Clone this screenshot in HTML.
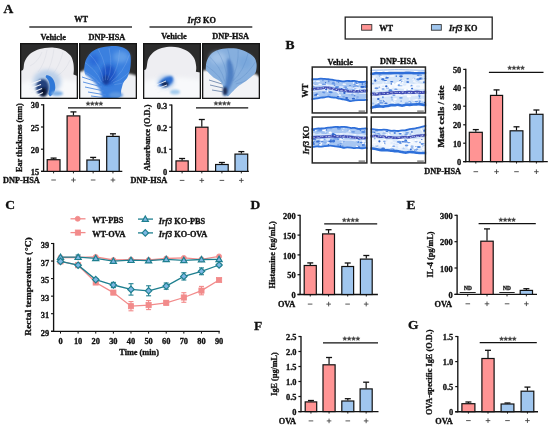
<!DOCTYPE html><html><head><meta charset="utf-8"><style>html,body{margin:0;padding:0;background:#fff;}svg{display:block;will-change:transform;filter:blur(0.3px);}text{font-family:"Liberation Serif",serif;font-weight:bold;stroke:#111;stroke-width:0.32px;}</style></head><body>
<svg width="550" height="428" viewBox="0 0 550 428">
<rect width="550" height="428" fill="#fff"/>
<text x="3.40" y="13.20" font-size="13.5" fill="#111" >A</text>
<text x="285.60" y="48.60" font-size="13.5" fill="#111" >B</text>
<text x="5.30" y="209.40" font-size="13.5" fill="#111" >C</text>
<text x="250.50" y="209.40" font-size="13.5" fill="#111" >D</text>
<text x="406.40" y="209.40" font-size="13.5" fill="#111" >E</text>
<text x="253.90" y="329.50" font-size="13.5" fill="#111" >F</text>
<text x="407.90" y="329.40" font-size="13.5" fill="#111" >G</text>
<text x="81.05" y="22.20" font-size="8.3" text-anchor="middle" fill="#111" >WT</text>
<line x1="29.30" y1="27.00" x2="132.00" y2="27.00" stroke="#333" stroke-width="1.5" />
<text x="201.7" y="22.7" font-size="8.3" text-anchor="middle" fill="#111"><tspan font-style="italic">Irf3</tspan> KO</text>
<line x1="149.50" y1="27.00" x2="252.30" y2="27.00" stroke="#333" stroke-width="1.5" />
<text x="53.30" y="39.50" font-size="8.3" text-anchor="middle" fill="#111" >Vehicle</text>
<text x="106.90" y="39.50" font-size="8.3" text-anchor="middle" fill="#111" >DNP-HSA</text>
<text x="174.05" y="39.40" font-size="8.3" text-anchor="middle" fill="#111" >Vehicle</text>
<text x="230.60" y="39.40" font-size="8.3" text-anchor="middle" fill="#111" >DNP-HSA</text>
<defs><filter id="b1" filterUnits="userSpaceOnUse" x="0" y="0" width="550" height="428"><feGaussianBlur stdDeviation="1.2"/></filter><filter id="b2" filterUnits="userSpaceOnUse" x="0" y="0" width="550" height="428"><feGaussianBlur stdDeviation="2.2"/></filter><filter id="b3" filterUnits="userSpaceOnUse" x="0" y="0" width="550" height="428"><feGaussianBlur stdDeviation="3.2"/></filter><filter id="b05" filterUnits="userSpaceOnUse" x="0" y="0" width="550" height="428"><feGaussianBlur stdDeviation="0.5"/></filter><filter id="b08" filterUnits="userSpaceOnUse" x="0" y="0" width="550" height="428"><feGaussianBlur stdDeviation="0.8"/></filter><filter id="b03" filterUnits="userSpaceOnUse" x="0" y="0" width="550" height="428"><feGaussianBlur stdDeviation="0.35"/></filter>
<clipPath id="cp1"><rect x="20" y="43" width="58" height="56"/></clipPath>
<clipPath id="cp2"><rect x="79" y="43" width="58" height="56"/></clipPath>
<clipPath id="cp3"><rect x="143" y="43" width="58" height="56"/></clipPath>
<clipPath id="cp4"><rect x="202" y="43" width="58" height="56"/></clipPath>
<clipPath id="cm1"><rect x="311.5" y="66.3" width="56.1" height="47.4"/></clipPath>
<clipPath id="cm2"><rect x="370.5" y="66.3" width="55.7" height="47.4"/></clipPath>
<clipPath id="cm3"><rect x="311.5" y="116.3" width="56.1" height="47.4"/></clipPath>
<clipPath id="cm4"><rect x="370.5" y="116.3" width="55.7" height="47.4"/></clipPath>
</defs>
<g clip-path="url(#cp1)">
<rect x="20" y="43" width="58" height="56" fill="#2c2c2c"/>
<path d="M18.32,70.71 C19.11,70.56 22.05,71.17 23.06,69.77 C24.08,68.37 23.51,64.69 24.42,62.32 C25.32,59.95 26.68,57.46 28.48,55.54 C30.29,53.63 32.54,52.05 35.25,50.80 C37.96,49.56 41.57,48.61 44.73,48.10 C47.90,47.58 51.06,47.35 54.22,47.69 C57.38,48.03 60.99,48.82 63.70,50.13 C66.41,51.44 68.89,53.51 70.47,55.54 C72.05,57.58 72.61,60.06 73.18,62.32 C73.74,64.57 73.81,67.06 73.86,69.09 C73.90,71.12 73.52,73.60 73.45,74.51 L80,77 L80,101 L18,101 Z" fill="#ededf1" filter="url(#b05)"/>
<path d="M18,84 Q45,74 80,82 L80,101 L18,101 Z" fill="#f8f9fb" filter="url(#b2)"/>
<path d="M30,66 Q38.0,62.0 42,52" stroke="#c4c6d2" stroke-width="0.5" fill="none" opacity="0.5"/>
<path d="M38,72 Q44.5,64.0 47,50" stroke="#c4c6d2" stroke-width="0.5" fill="none" opacity="0.5"/>
<path d="M46,74 Q52.0,64.5 54,49" stroke="#c4c6d2" stroke-width="0.5" fill="none" opacity="0.5"/>
<path d="M52,75 Q59.5,66.5 63,52" stroke="#c4c6d2" stroke-width="0.5" fill="none" opacity="0.5"/>
<path d="M57,76 Q65.5,71.0 70,60" stroke="#c4c6d2" stroke-width="0.5" fill="none" opacity="0.5"/>
<ellipse cx="47" cy="82" rx="14" ry="12" fill="#b9cfe9" filter="url(#b2)"/>
<ellipse cx="42.5" cy="87.5" rx="6.5" ry="8.5" fill="#21407c" filter="url(#b1)"/>
<path d="M46.5,75 C52,75.5 55.5,81 55.3,88 C55,92 53,95 50,96.5 L48.2,94 C50.5,88 50.5,81 45.5,77 Z" fill="#2e78d8" filter="url(#b05)"/>
<ellipse cx="43.5" cy="92" rx="3.2" ry="4.5" fill="#0d1430" filter="url(#b08)"/>
<ellipse cx="57" cy="93.5" rx="6" ry="2.6" fill="#7fb0e6" filter="url(#b1)"/>
<line x1="28" y1="85" x2="41" y2="80" stroke="#f3f6fa" stroke-width="1.1" filter="url(#b03)"/>
<line x1="29" y1="89" x2="41" y2="84.5" stroke="#f3f6fa" stroke-width="1.1" filter="url(#b03)"/>
<line x1="31" y1="93" x2="42" y2="88.5" stroke="#f3f6fa" stroke-width="1.1" filter="url(#b03)"/>
<line x1="33" y1="97" x2="43" y2="92.5" stroke="#f3f6fa" stroke-width="1.1" filter="url(#b03)"/>
</g>
<g clip-path="url(#cp2)">
<rect x="79" y="43" width="58" height="56" fill="#2c2c2c"/>
<path d="M78,73 Q84,71 86,68 L131,74 L138,76 L138,101 L78,101 Z" fill="#eef0f4" filter="url(#b1)"/>
<path d="M84.10,69.09 C84.32,67.73 84.55,63.45 85.45,60.96 C86.35,58.48 87.82,56.11 89.51,54.19 C91.21,52.27 93.01,50.69 95.61,49.45 C98.20,48.21 101.70,47.30 105.09,46.74 C108.48,46.18 112.76,45.84 115.92,46.06 C119.09,46.29 121.79,46.97 124.05,48.10 C126.31,49.22 128.34,50.92 129.47,52.84 C130.60,54.75 130.71,56.90 130.82,59.61 C130.94,62.32 130.71,66.15 130.15,69.09 C129.58,72.02 128.57,74.96 127.44,77.22 C126.31,79.47 124.39,80.60 123.37,82.63 C122.36,84.67 122.13,86.92 121.34,89.41 C120.55,91.89 122.25,96.07 118.63,97.53 C115.02,99.00 103.73,100.02 99.67,98.21 C95.61,96.40 96.51,90.20 94.25,86.70 C92.00,83.20 87.82,80.15 86.13,77.22 C84.43,74.28 84.43,70.44 84.10,69.09 Z" fill="#3b80df" filter="url(#b05)"/>
<ellipse cx="108.5" cy="74.5" rx="7.5" ry="10" fill="#1a52c4" filter="url(#b2)"/>
<ellipse cx="106" cy="80" rx="3.5" ry="5" fill="#173f9c" filter="url(#b1)"/>
<ellipse cx="121" cy="57" rx="8" ry="6" fill="#5f9ce8" filter="url(#b2)"/>
<ellipse cx="94" cy="60" rx="5" ry="6" fill="#2a6ad8" filter="url(#b2)"/>
<path d="M78,72 C86,73 94,80 100,90 L103,101 L78,101 Z" fill="#f3f6fa" filter="url(#b1)"/>
<line x1="82" y1="77" x2="100" y2="83" stroke="#4f8ae0" stroke-width="0.9" filter="url(#b03)"/>
<line x1="83" y1="82" x2="102" y2="87" stroke="#4f8ae0" stroke-width="0.9" filter="url(#b03)"/>
<line x1="85" y1="87" x2="104" y2="91" stroke="#4f8ae0" stroke-width="0.9" filter="url(#b03)"/>
<line x1="88" y1="92" x2="106" y2="95" stroke="#4f8ae0" stroke-width="0.9" filter="url(#b03)"/>
<line x1="91" y1="96" x2="107" y2="98" stroke="#4f8ae0" stroke-width="0.9" filter="url(#b03)"/>
<ellipse cx="116" cy="95" rx="7" ry="3" fill="#5b96e0" filter="url(#b1)"/>
<clipPath id="ce2"><path d="M84.10,69.09 C84.32,67.73 84.55,63.45 85.45,60.96 C86.35,58.48 87.82,56.11 89.51,54.19 C91.21,52.27 93.01,50.69 95.61,49.45 C98.20,48.21 101.70,47.30 105.09,46.74 C108.48,46.18 112.76,45.84 115.92,46.06 C119.09,46.29 121.79,46.97 124.05,48.10 C126.31,49.22 128.34,50.92 129.47,52.84 C130.60,54.75 130.71,56.90 130.82,59.61 C130.94,62.32 130.71,66.15 130.15,69.09 C129.58,72.02 128.57,74.96 127.44,77.22 C126.31,79.47 124.39,80.60 123.37,82.63 C122.36,84.67 122.13,86.92 121.34,89.41 C120.55,91.89 122.25,96.07 118.63,97.53 C115.02,99.00 103.73,100.02 99.67,98.21 C95.61,96.40 96.51,90.20 94.25,86.70 C92.00,83.20 87.82,80.15 86.13,77.22 C84.43,74.28 84.43,70.44 84.10,69.09 Z"/></clipPath><g clip-path="url(#ce2)">
<path d="M100.1,83.9 Q91.5,72.3 72.7,67.4" stroke="#8fbaf0" stroke-width="0.6" fill="none" opacity="0.5"/>
<path d="M101.5,82.2 Q96.3,68.8 79.5,59.0" stroke="#8fbaf0" stroke-width="0.6" fill="none" opacity="0.5"/>
<path d="M103.2,80.9 Q101.8,66.6 88.2,52.7" stroke="#8fbaf0" stroke-width="0.6" fill="none" opacity="0.5"/>
<path d="M105.3,80.2 Q107.7,66.0 98.3,49.0" stroke="#8fbaf0" stroke-width="0.6" fill="none" opacity="0.5"/>
<path d="M107.4,80.0 Q113.5,67.0 109.0,48.1" stroke="#8fbaf0" stroke-width="0.6" fill="none" opacity="0.5"/>
<path d="M109.5,80.4 Q118.9,69.5 119.6,50.0" stroke="#8fbaf0" stroke-width="0.6" fill="none" opacity="0.5"/>
<path d="M111.5,81.4 Q123.4,73.3 129.3,54.8" stroke="#8fbaf0" stroke-width="0.6" fill="none" opacity="0.5"/>
<path d="M113.1,82.8 Q126.7,78.2 137.3,61.9" stroke="#8fbaf0" stroke-width="0.6" fill="none" opacity="0.5"/>
<path d="M114.2,84.6 Q128.6,83.8 143.2,71.0" stroke="#8fbaf0" stroke-width="0.6" fill="none" opacity="0.5"/>
</g>
</g>
<g clip-path="url(#cp3)">
<rect x="143" y="43" width="58" height="56" fill="#2c2c2c"/>
<path d="M141.32,69.77 C142.11,69.65 144.93,70.78 146.06,69.09 C147.19,67.40 146.97,62.32 148.10,59.61 C149.22,56.90 150.92,54.64 152.84,52.84 C154.75,51.03 156.90,49.79 159.61,48.77 C162.32,47.76 165.93,46.97 169.09,46.74 C172.25,46.51 175.41,46.63 178.57,47.42 C181.73,48.21 185.46,49.68 188.05,51.48 C190.65,53.29 192.79,55.77 194.15,58.25 C195.50,60.74 195.89,64.12 196.18,66.38 C196.47,68.64 195.95,70.90 195.91,71.80 L203,73 L203,101 L141,101 Z" fill="#eeeef2" filter="url(#b05)"/>
<path d="M141,82 Q170,74 203,80 L203,101 L141,101 Z" fill="#f8f9fb" filter="url(#b2)"/>
<ellipse cx="166" cy="82" rx="8" ry="6.5" fill="#a9c6ea" filter="url(#b2)"/>
<path d="M158,85 C160,80 165,76 171,76 C174,77 174,81 171,84 C167,87 162,88 158,85 Z" fill="#2f6fd2" filter="url(#b08)"/>
<ellipse cx="165" cy="84" rx="3.4" ry="2.6" fill="#15284f" filter="url(#b08)"/>
<ellipse cx="175" cy="92" rx="5" ry="2.5" fill="#a4ccee" filter="url(#b1)"/>
<line x1="154" y1="86" x2="166" y2="81" stroke="#f2f5f9" stroke-width="0.9" filter="url(#b03)"/>
<line x1="155" y1="89.5" x2="167" y2="85" stroke="#f2f5f9" stroke-width="0.9" filter="url(#b03)"/>
<line x1="157" y1="93" x2="168" y2="88.5" stroke="#f2f5f9" stroke-width="0.9" filter="url(#b03)"/>
</g>
<g clip-path="url(#cp4)">
<rect x="202" y="43" width="58" height="56" fill="#2c2c2c"/>
<path d="M201,71 L206,70 L256,74 L261,78 L261,101 L201,101 Z" fill="#f2f3f6" filter="url(#b1)"/>
<path d="M205.74,69.77 C205.85,68.52 205.74,64.69 206.42,62.32 C207.10,59.95 208.22,57.46 209.80,55.54 C211.38,53.63 213.30,51.98 215.90,50.80 C218.50,49.63 221.99,48.89 225.38,48.50 C228.77,48.12 232.83,48.00 236.22,48.50 C239.60,49.00 242.76,50.08 245.70,51.48 C248.63,52.88 252.02,54.87 253.82,56.90 C255.63,58.93 256.19,61.19 256.53,63.67 C256.87,66.15 256.53,69.77 255.86,71.80 C255.18,73.83 254.16,74.28 252.47,75.86 C250.78,77.44 248.18,79.47 245.70,81.28 C243.21,83.09 239.83,84.89 237.57,86.70 C235.31,88.50 233.73,90.53 232.15,92.12 C230.57,93.70 229.22,95.95 228.09,96.18 C226.96,96.40 226.51,95.73 225.38,93.47 C224.25,91.21 223.35,85.34 221.32,82.63 C219.29,79.92 215.79,79.36 213.19,77.22 C210.59,75.07 206.98,71.01 205.74,69.77 Z" fill="#86afde" filter="url(#b05)"/>
<path d="M228,58 C233,62 235,72 233,80 C231,86 228,92 226,96 L223,95 C224,88 227,80 227,72 C227,66 226,61 228,58 Z" fill="#4f80c4" filter="url(#b1)"/>
<ellipse cx="218" cy="58" rx="8" ry="6" fill="#a2c2e8" filter="url(#b2)"/>
<ellipse cx="245" cy="62" rx="7" ry="7" fill="#7aa8dc" filter="url(#b2)"/>
<ellipse cx="225" cy="91" rx="2.2" ry="4" fill="#1b2a50" filter="url(#b08)"/>
<line x1="209" y1="80" x2="222" y2="84" stroke="#4a6a98" stroke-width="0.7" filter="url(#b03)"/>
<line x1="210" y1="85" x2="223" y2="88" stroke="#4a6a98" stroke-width="0.7" filter="url(#b03)"/>
<line x1="212" y1="90" x2="224" y2="92" stroke="#4a6a98" stroke-width="0.7" filter="url(#b03)"/>
<clipPath id="ce4"><path d="M205.74,69.77 C205.85,68.52 205.74,64.69 206.42,62.32 C207.10,59.95 208.22,57.46 209.80,55.54 C211.38,53.63 213.30,51.98 215.90,50.80 C218.50,49.63 221.99,48.89 225.38,48.50 C228.77,48.12 232.83,48.00 236.22,48.50 C239.60,49.00 242.76,50.08 245.70,51.48 C248.63,52.88 252.02,54.87 253.82,56.90 C255.63,58.93 256.19,61.19 256.53,63.67 C256.87,66.15 256.53,69.77 255.86,71.80 C255.18,73.83 254.16,74.28 252.47,75.86 C250.78,77.44 248.18,79.47 245.70,81.28 C243.21,83.09 239.83,84.89 237.57,86.70 C235.31,88.50 233.73,90.53 232.15,92.12 C230.57,93.70 229.22,95.95 228.09,96.18 C226.96,96.40 226.51,95.73 225.38,93.47 C224.25,91.21 223.35,85.34 221.32,82.63 C219.29,79.92 215.79,79.36 213.19,77.22 C210.59,75.07 206.98,71.01 205.74,69.77 Z"/></clipPath><g clip-path="url(#ce4)">
<path d="M221.8,84.6 Q212.1,74.0 191.0,70.1" stroke="#4f7fc0" stroke-width="0.6" fill="none" opacity="0.45"/>
<path d="M222.9,82.8 Q216.4,70.0 197.2,60.6" stroke="#4f7fc0" stroke-width="0.6" fill="none" opacity="0.45"/>
<path d="M224.6,81.3 Q221.7,67.3 205.7,53.1" stroke="#4f7fc0" stroke-width="0.6" fill="none" opacity="0.45"/>
<path d="M226.5,80.4 Q227.5,66.1 215.8,48.1" stroke="#4f7fc0" stroke-width="0.6" fill="none" opacity="0.45"/>
<path d="M228.6,80.0 Q233.4,66.4 226.9,46.1" stroke="#4f7fc0" stroke-width="0.6" fill="none" opacity="0.45"/>
<path d="M230.8,80.2 Q239.0,68.4 238.2,47.0" stroke="#4f7fc0" stroke-width="0.6" fill="none" opacity="0.45"/>
<path d="M232.8,80.9 Q243.8,71.8 248.8,51.0" stroke="#4f7fc0" stroke-width="0.6" fill="none" opacity="0.45"/>
<path d="M234.5,82.2 Q247.6,76.3 258.0,57.6" stroke="#4f7fc0" stroke-width="0.6" fill="none" opacity="0.45"/>
<path d="M235.9,83.9 Q250.1,81.7 265.0,66.4" stroke="#4f7fc0" stroke-width="0.6" fill="none" opacity="0.45"/>
</g>
</g>
<rect x="20.65" y="43.65" width="56.70" height="54.70" fill="none" stroke="#151515" stroke-width="1.3"/>
<rect x="79.65" y="43.65" width="56.70" height="54.70" fill="none" stroke="#151515" stroke-width="1.3"/>
<rect x="143.65" y="43.65" width="56.70" height="54.70" fill="none" stroke="#151515" stroke-width="1.3"/>
<rect x="202.65" y="43.65" width="56.70" height="54.70" fill="none" stroke="#151515" stroke-width="1.3"/>
<line x1="43.60" y1="104.20" x2="43.60" y2="172.00" stroke="#111" stroke-width="1.35" />
<line x1="41.00" y1="171.40" x2="122.30" y2="171.40" stroke="#111" stroke-width="1.35" />
<line x1="41.00" y1="104.80" x2="43.60" y2="104.80" stroke="#111" stroke-width="1.2" />
<text x="39.10" y="108.40" font-size="8.4" text-anchor="end" fill="#111" >30</text>
<line x1="41.00" y1="127.00" x2="43.60" y2="127.00" stroke="#111" stroke-width="1.2" />
<text x="39.10" y="130.60" font-size="8.4" text-anchor="end" fill="#111" >25</text>
<line x1="41.00" y1="149.20" x2="43.60" y2="149.20" stroke="#111" stroke-width="1.2" />
<text x="39.10" y="152.80" font-size="8.4" text-anchor="end" fill="#111" >20</text>
<line x1="41.00" y1="171.40" x2="43.60" y2="171.40" stroke="#111" stroke-width="1.2" />
<text x="39.10" y="175.00" font-size="8.4" text-anchor="end" fill="#111" >15</text>
<line x1="53.60" y1="171.40" x2="53.60" y2="173.40" stroke="#111" stroke-width="0.9" />
<line x1="53.60" y1="158.10" x2="53.60" y2="159.20" stroke="#111" stroke-width="1.2" />
<line x1="50.60" y1="158.10" x2="56.60" y2="158.10" stroke="#111" stroke-width="1.3" />
<rect x="47.20" y="159.70" width="12.80" height="11.70" fill="#FF9494" stroke="#111" stroke-width="1.2"/>
<line x1="73.45" y1="171.40" x2="73.45" y2="173.40" stroke="#111" stroke-width="0.9" />
<line x1="73.45" y1="111.90" x2="73.45" y2="115.40" stroke="#111" stroke-width="1.2" />
<line x1="70.45" y1="111.90" x2="76.45" y2="111.90" stroke="#111" stroke-width="1.3" />
<rect x="67.10" y="115.90" width="12.70" height="55.50" fill="#FF9494" stroke="#111" stroke-width="1.2"/>
<line x1="93.15" y1="171.40" x2="93.15" y2="173.40" stroke="#111" stroke-width="0.9" />
<line x1="93.15" y1="157.40" x2="93.15" y2="159.50" stroke="#111" stroke-width="1.2" />
<line x1="90.15" y1="157.40" x2="96.15" y2="157.40" stroke="#111" stroke-width="1.3" />
<rect x="86.90" y="160.00" width="12.50" height="11.40" fill="#A0C6EE" stroke="#111" stroke-width="1.2"/>
<line x1="112.95" y1="171.40" x2="112.95" y2="173.40" stroke="#111" stroke-width="0.9" />
<line x1="112.95" y1="133.80" x2="112.95" y2="135.90" stroke="#111" stroke-width="1.2" />
<line x1="109.95" y1="133.80" x2="115.95" y2="133.80" stroke="#111" stroke-width="1.3" />
<rect x="106.70" y="136.40" width="12.50" height="35.00" fill="#A0C6EE" stroke="#111" stroke-width="1.2"/>
<line x1="68.00" y1="107.90" x2="120.90" y2="107.90" stroke="#111" stroke-width="1.3" />
<polygon points="88.04,101.40 88.68,102.81 90.22,102.99 89.08,104.04 89.39,105.56 88.04,104.80 86.69,105.56 86.99,104.04 85.85,102.99 87.39,102.81" fill="#444" stroke="#444" stroke-width="0.3"/>
<polygon points="92.31,101.40 92.96,102.81 94.50,102.99 93.36,104.04 93.66,105.56 92.31,104.80 90.96,105.56 91.27,104.04 90.13,102.99 91.67,102.81" fill="#444" stroke="#444" stroke-width="0.3"/>
<polygon points="96.59,101.40 97.23,102.81 98.77,102.99 97.63,104.04 97.94,105.56 96.59,104.80 95.24,105.56 95.54,104.04 94.40,102.99 95.94,102.81" fill="#444" stroke="#444" stroke-width="0.3"/>
<polygon points="100.86,101.40 101.51,102.81 103.05,102.99 101.91,104.04 102.21,105.56 100.86,104.80 99.51,105.56 99.82,104.04 98.68,102.99 100.22,102.81" fill="#444" stroke="#444" stroke-width="0.3"/>
<line x1="51.30" y1="180.00" x2="55.90" y2="180.00" stroke="#444" stroke-width="0.9" />
<line x1="71.15" y1="180.00" x2="75.75" y2="180.00" stroke="#444" stroke-width="0.9" />
<line x1="73.45" y1="177.70" x2="73.45" y2="182.30" stroke="#444" stroke-width="0.9" />
<line x1="90.85" y1="180.00" x2="95.45" y2="180.00" stroke="#444" stroke-width="0.9" />
<line x1="110.65" y1="180.00" x2="115.25" y2="180.00" stroke="#444" stroke-width="0.9" />
<line x1="112.95" y1="177.70" x2="112.95" y2="182.30" stroke="#444" stroke-width="0.9" />
<text x="21.40" y="183.00" font-size="8.3" text-anchor="middle" fill="#111" >DNP-HSA</text>
<text transform="translate(22.00,137.65) rotate(-90)" x="0" y="0" font-size="8.3" text-anchor="middle" textLength="68.9" lengthAdjust="spacingAndGlyphs" fill="#111">Ear thickness (mm)</text>
<line x1="171.80" y1="104.40" x2="171.80" y2="172.00" stroke="#111" stroke-width="1.35" />
<line x1="169.20" y1="171.40" x2="248.80" y2="171.40" stroke="#111" stroke-width="1.35" />
<line x1="169.20" y1="105.00" x2="171.80" y2="105.00" stroke="#111" stroke-width="1.2" />
<text x="167.30" y="108.60" font-size="8.4" text-anchor="end" fill="#111" >0.3</text>
<line x1="169.20" y1="127.20" x2="171.80" y2="127.20" stroke="#111" stroke-width="1.2" />
<text x="167.30" y="130.80" font-size="8.4" text-anchor="end" fill="#111" >0.2</text>
<line x1="169.20" y1="149.30" x2="171.80" y2="149.30" stroke="#111" stroke-width="1.2" />
<text x="167.30" y="152.90" font-size="8.4" text-anchor="end" fill="#111" >0.1</text>
<line x1="169.20" y1="171.40" x2="171.80" y2="171.40" stroke="#111" stroke-width="1.2" />
<text x="167.30" y="175.00" font-size="8.4" text-anchor="end" fill="#111" >0</text>
<line x1="182.10" y1="171.40" x2="182.10" y2="173.40" stroke="#111" stroke-width="0.9" />
<line x1="182.10" y1="158.50" x2="182.10" y2="160.40" stroke="#111" stroke-width="1.2" />
<line x1="179.10" y1="158.50" x2="185.10" y2="158.50" stroke="#111" stroke-width="1.3" />
<rect x="176.00" y="160.90" width="12.20" height="10.50" fill="#FF9494" stroke="#111" stroke-width="1.2"/>
<line x1="201.80" y1="171.40" x2="201.80" y2="173.40" stroke="#111" stroke-width="0.9" />
<line x1="201.80" y1="119.50" x2="201.80" y2="126.70" stroke="#111" stroke-width="1.2" />
<line x1="198.80" y1="119.50" x2="204.80" y2="119.50" stroke="#111" stroke-width="1.3" />
<rect x="195.60" y="127.20" width="12.40" height="44.20" fill="#FF9494" stroke="#111" stroke-width="1.2"/>
<line x1="221.90" y1="171.40" x2="221.90" y2="173.40" stroke="#111" stroke-width="0.9" />
<line x1="221.90" y1="162.50" x2="221.90" y2="164.00" stroke="#111" stroke-width="1.2" />
<line x1="218.90" y1="162.50" x2="224.90" y2="162.50" stroke="#111" stroke-width="1.3" />
<rect x="215.60" y="164.50" width="12.60" height="6.90" fill="#A0C6EE" stroke="#111" stroke-width="1.2"/>
<line x1="241.35" y1="171.40" x2="241.35" y2="173.40" stroke="#111" stroke-width="0.9" />
<line x1="241.35" y1="151.60" x2="241.35" y2="153.60" stroke="#111" stroke-width="1.2" />
<line x1="238.35" y1="151.60" x2="244.35" y2="151.60" stroke="#111" stroke-width="1.3" />
<rect x="235.00" y="154.10" width="12.70" height="17.30" fill="#A0C6EE" stroke="#111" stroke-width="1.2"/>
<line x1="196.00" y1="107.80" x2="248.20" y2="107.80" stroke="#111" stroke-width="1.3" />
<polygon points="215.91,101.20 216.56,102.61 218.10,102.79 216.96,103.84 217.26,105.36 215.91,104.60 214.56,105.36 214.87,103.84 213.73,102.79 215.27,102.61" fill="#444" stroke="#444" stroke-width="0.3"/>
<polygon points="220.14,101.20 220.78,102.61 222.32,102.79 221.18,103.84 221.49,105.36 220.14,104.60 218.79,105.36 219.09,103.84 217.95,102.79 219.49,102.61" fill="#444" stroke="#444" stroke-width="0.3"/>
<polygon points="224.36,101.20 225.01,102.61 226.55,102.79 225.41,103.84 225.71,105.36 224.36,104.60 223.01,105.36 223.32,103.84 222.18,102.79 223.72,102.61" fill="#444" stroke="#444" stroke-width="0.3"/>
<polygon points="228.59,101.20 229.23,102.61 230.77,102.79 229.63,103.84 229.94,105.36 228.59,104.60 227.24,105.36 227.54,103.84 226.40,102.79 227.94,102.61" fill="#444" stroke="#444" stroke-width="0.3"/>
<line x1="179.80" y1="180.40" x2="184.40" y2="180.40" stroke="#444" stroke-width="0.9" />
<line x1="199.50" y1="180.40" x2="204.10" y2="180.40" stroke="#444" stroke-width="0.9" />
<line x1="201.80" y1="178.10" x2="201.80" y2="182.70" stroke="#444" stroke-width="0.9" />
<line x1="219.60" y1="180.40" x2="224.20" y2="180.40" stroke="#444" stroke-width="0.9" />
<line x1="239.05" y1="180.40" x2="243.65" y2="180.40" stroke="#444" stroke-width="0.9" />
<line x1="241.35" y1="178.10" x2="241.35" y2="182.70" stroke="#444" stroke-width="0.9" />
<text x="148.90" y="183.20" font-size="8.3" text-anchor="middle" fill="#111" >DNP-HSA</text>
<text transform="translate(149.70,137.85) rotate(-90)" x="0" y="0" font-size="8.3" text-anchor="middle" textLength="66.5" lengthAdjust="spacingAndGlyphs" fill="#111">Absorbance (O.D.)</text>
<rect x="345.2" y="17.1" width="147.0" height="21.9" fill="#fff" stroke="#222" stroke-width="1.3"/>
<rect x="361.6" y="24.6" width="10.2" height="5.6" fill="#FF9494" stroke="#333" stroke-width="0.9"/>
<rect x="431.4" y="24.6" width="9.9" height="5.6" fill="#A0C6EE" stroke="#333" stroke-width="0.9"/>
<text x="379.30" y="30.50" font-size="8.3" fill="#111" >WT</text>
<text x="449.1" y="30.6" font-size="8.3" fill="#111"><tspan font-style="italic">Irf3</tspan> KO</text>
<text x="340.20" y="64.60" font-size="8.3" text-anchor="middle" fill="#111" >Vehicle</text>
<text x="398.55" y="64.30" font-size="8.3" text-anchor="middle" fill="#111" >DNP-HSA</text>
<text transform="translate(308.30,90.60) rotate(-90)" x="0" y="0" font-size="8.3" text-anchor="middle" fill="#111">WT</text>
<text transform="translate(308.6,140.1) rotate(-90)" font-size="8.3" text-anchor="middle" fill="#111"><tspan font-style="italic">Irf3</tspan> KO</text>
<rect x="311.5" y="66.3" width="56.10" height="47.40" fill="#fff"/>
<g clip-path="url(#cm1)"><g filter="url(#b03)">
<path d="M309.50,79.55 C310.13,79.50 312.00,79.32 313.26,79.25 C314.51,79.19 315.76,79.24 317.01,79.15 C318.26,79.05 319.52,78.73 320.77,78.68 C322.02,78.64 323.27,78.79 324.52,78.88 C325.78,78.98 327.03,79.13 328.28,79.25 C329.53,79.37 330.79,79.42 332.04,79.62 C333.29,79.82 334.54,80.23 335.79,80.45 C337.05,80.66 338.30,80.75 339.55,80.92 C340.80,81.08 342.05,81.44 343.31,81.43 C344.56,81.43 345.81,80.95 347.06,80.89 C348.31,80.84 349.57,81.10 350.82,81.10 C352.07,81.10 353.32,80.78 354.58,80.89 C355.83,81.00 357.08,81.58 358.33,81.77 C359.58,81.96 360.84,82.02 362.09,82.02 C363.34,82.01 364.59,81.57 365.84,81.73 C367.10,81.89 368.97,82.77 369.60,82.98 L369.60,99.86 C368.97,99.87 367.10,99.81 365.84,99.87 C364.59,99.92 363.34,100.16 362.09,100.20 C360.84,100.24 359.58,100.09 358.33,100.12 C357.08,100.14 355.83,100.17 354.58,100.35 C353.32,100.53 352.07,101.27 350.82,101.21 C349.57,101.16 348.31,100.31 347.06,100.01 C345.81,99.70 344.56,99.61 343.31,99.40 C342.05,99.18 340.80,98.99 339.55,98.71 C338.30,98.43 337.05,97.95 335.79,97.73 C334.54,97.51 333.29,97.58 332.04,97.39 C330.79,97.21 329.53,96.61 328.28,96.60 C327.03,96.59 325.78,97.16 324.52,97.34 C323.27,97.51 322.02,97.46 320.77,97.63 C319.52,97.81 318.26,98.17 317.01,98.38 C315.76,98.58 314.51,98.66 313.26,98.86 C312.00,99.06 310.13,99.45 309.50,99.56 Z" fill="#a8c7f2"/>
<path d="M309.50,85.51 C310.13,85.41 312.00,85.00 313.26,84.92 C314.51,84.83 315.76,85.00 317.01,84.98 C318.26,84.95 319.52,84.85 320.77,84.78 C322.02,84.72 323.27,84.62 324.52,84.58 C325.78,84.55 327.03,84.50 328.28,84.58 C329.53,84.65 330.79,84.88 332.04,85.04 C333.29,85.20 334.54,85.38 335.79,85.55 C337.05,85.72 338.30,85.94 339.55,86.07 C340.80,86.21 342.05,86.17 343.31,86.37 C344.56,86.56 345.81,87.12 347.06,87.26 C348.31,87.39 349.57,87.16 350.82,87.19 C352.07,87.22 353.32,87.46 354.58,87.44 C355.83,87.42 357.08,87.03 358.33,87.07 C359.58,87.11 360.84,87.56 362.09,87.67 C363.34,87.78 364.59,87.81 365.84,87.73 C367.10,87.64 368.97,87.26 369.60,87.17 L369.60,88.69 C368.97,88.77 367.10,89.17 365.84,89.18 C364.59,89.19 363.34,88.76 362.09,88.74 C360.84,88.72 359.58,89.08 358.33,89.06 C357.08,89.05 355.83,88.73 354.58,88.64 C353.32,88.55 352.07,88.51 350.82,88.51 C349.57,88.52 348.31,88.69 347.06,88.68 C345.81,88.66 344.56,88.61 343.31,88.42 C342.05,88.22 340.80,87.77 339.55,87.51 C338.30,87.25 337.05,87.03 335.79,86.86 C334.54,86.68 333.29,86.56 332.04,86.45 C330.79,86.34 329.53,86.26 328.28,86.18 C327.03,86.10 325.78,86.06 324.52,85.97 C323.27,85.87 322.02,85.60 320.77,85.59 C319.52,85.59 318.26,85.81 317.01,85.94 C315.76,86.06 314.51,86.21 313.26,86.35 C312.00,86.49 310.13,86.70 309.50,86.77 Z" fill="#dce9fb"/>
<path d="M309.50,91.72 C310.13,91.55 312.00,90.94 313.26,90.74 C314.51,90.53 315.76,90.60 317.01,90.48 C318.26,90.36 319.52,90.18 320.77,90.01 C322.02,89.85 323.27,89.53 324.52,89.50 C325.78,89.47 327.03,89.74 328.28,89.85 C329.53,89.95 330.79,89.91 332.04,90.14 C333.29,90.37 334.54,91.00 335.79,91.21 C337.05,91.42 338.30,91.22 339.55,91.39 C340.80,91.56 342.05,92.02 343.31,92.22 C344.56,92.41 345.81,92.42 347.06,92.56 C348.31,92.70 349.57,92.91 350.82,93.05 C352.07,93.19 353.32,93.39 354.58,93.40 C355.83,93.41 357.08,93.23 358.33,93.10 C359.58,92.97 360.84,92.64 362.09,92.63 C363.34,92.61 364.59,93.05 365.84,93.01 C367.10,92.98 368.97,92.51 369.60,92.41 L369.60,93.57 C368.97,93.65 367.10,93.97 365.84,94.04 C364.59,94.11 363.34,94.05 362.09,93.99 C360.84,93.93 359.58,93.58 358.33,93.68 C357.08,93.78 355.83,94.50 354.58,94.58 C353.32,94.67 352.07,94.33 350.82,94.19 C349.57,94.05 348.31,93.84 347.06,93.74 C345.81,93.65 344.56,93.79 343.31,93.61 C342.05,93.43 340.80,92.92 339.55,92.65 C338.30,92.38 337.05,92.25 335.79,92.00 C334.54,91.75 333.29,91.41 332.04,91.14 C330.79,90.87 329.53,90.42 328.28,90.38 C327.03,90.34 325.78,90.80 324.52,90.90 C323.27,91.00 322.02,90.85 320.77,90.98 C319.52,91.12 318.26,91.50 317.01,91.68 C315.76,91.87 314.51,91.91 313.26,92.07 C312.00,92.23 310.13,92.54 309.50,92.63 Z" fill="#dde9fb"/>
<ellipse cx="343.7" cy="96.8" rx="1.6" ry="0.6" fill="#6b9ae6"/>
<ellipse cx="324.3" cy="89.8" rx="1.7" ry="0.7" fill="#f4f8fe"/>
<ellipse cx="338.6" cy="82.7" rx="0.8" ry="0.4" fill="#3a72d6"/>
<ellipse cx="365.5" cy="86.7" rx="1.0" ry="1.1" fill="#2f66cc"/>
<ellipse cx="345.0" cy="87.1" rx="2.2" ry="0.5" fill="#6b9ae6"/>
<ellipse cx="338.4" cy="92.3" rx="1.8" ry="0.5" fill="#f4f8fe"/>
<ellipse cx="334.6" cy="85.1" rx="0.9" ry="0.7" fill="#3a72d6"/>
<ellipse cx="343.6" cy="84.2" rx="0.8" ry="0.8" fill="#eef4fd"/>
<ellipse cx="330.1" cy="92.0" rx="1.5" ry="1.1" fill="#6b9ae6"/>
<ellipse cx="338.1" cy="87.3" rx="0.6" ry="0.9" fill="#ffffff"/>
<ellipse cx="338.6" cy="93.6" rx="0.8" ry="0.5" fill="#eef4fd"/>
<ellipse cx="336.9" cy="87.3" rx="1.8" ry="1.0" fill="#3a72d6"/>
<ellipse cx="356.0" cy="98.4" rx="0.7" ry="0.8" fill="#eef4fd"/>
<ellipse cx="315.9" cy="95.1" rx="2.0" ry="0.9" fill="#3a72d6"/>
<ellipse cx="346.6" cy="88.8" rx="1.6" ry="0.5" fill="#3a72d6"/>
<ellipse cx="347.4" cy="99.6" rx="1.8" ry="0.7" fill="#2f66cc"/>
<ellipse cx="352.7" cy="92.6" rx="1.3" ry="0.8" fill="#9dbff0"/>
<ellipse cx="328.9" cy="81.4" rx="1.0" ry="1.0" fill="#3a72d6"/>
<ellipse cx="339.4" cy="91.8" rx="1.2" ry="0.5" fill="#ffffff"/>
<ellipse cx="353.8" cy="88.3" rx="1.1" ry="0.9" fill="#f4f8fe"/>
<ellipse cx="356.7" cy="98.3" rx="1.2" ry="0.9" fill="#86aeec"/>
<ellipse cx="329.3" cy="82.3" rx="1.2" ry="1.1" fill="#9dbff0"/>
<ellipse cx="313.8" cy="81.1" rx="1.9" ry="0.5" fill="#ffffff"/>
<ellipse cx="337.9" cy="96.7" rx="1.2" ry="0.8" fill="#2f66cc"/>
<ellipse cx="349.2" cy="95.0" rx="1.1" ry="1.1" fill="#9dbff0"/>
<ellipse cx="327.1" cy="89.5" rx="1.5" ry="0.6" fill="#ffffff"/>
<ellipse cx="355.9" cy="82.4" rx="1.2" ry="0.6" fill="#6b9ae6"/>
<ellipse cx="354.7" cy="86.9" rx="1.9" ry="1.2" fill="#6b9ae6"/>
<ellipse cx="318.0" cy="81.3" rx="2.1" ry="0.9" fill="#eef4fd"/>
<ellipse cx="321.5" cy="79.7" rx="1.5" ry="0.4" fill="#9dbff0"/>
<ellipse cx="324.2" cy="92.6" rx="1.2" ry="1.0" fill="#6b9ae6"/>
<ellipse cx="362.3" cy="84.0" rx="0.8" ry="0.8" fill="#2f66cc"/>
<ellipse cx="346.6" cy="98.0" rx="1.5" ry="0.9" fill="#2f66cc"/>
<ellipse cx="339.7" cy="95.2" rx="1.3" ry="0.9" fill="#eef4fd"/>
<ellipse cx="323.0" cy="91.8" rx="0.9" ry="1.1" fill="#4f86e0"/>
<ellipse cx="366.5" cy="98.6" rx="1.0" ry="1.0" fill="#eef4fd"/>
<ellipse cx="313.6" cy="86.1" rx="1.4" ry="0.4" fill="#2f66cc"/>
<ellipse cx="356.9" cy="83.2" rx="0.9" ry="0.7" fill="#3a72d6"/>
<ellipse cx="355.7" cy="84.6" rx="2.2" ry="1.1" fill="#6b9ae6"/>
<ellipse cx="340.6" cy="93.0" rx="2.1" ry="0.8" fill="#9dbff0"/>
<ellipse cx="364.7" cy="84.2" rx="1.3" ry="0.8" fill="#86aeec"/>
<ellipse cx="362.4" cy="86.9" rx="2.1" ry="1.1" fill="#2f66cc"/>
<ellipse cx="345.7" cy="87.3" rx="1.4" ry="0.9" fill="#6b9ae6"/>
<ellipse cx="339.7" cy="91.7" rx="1.5" ry="0.4" fill="#3a72d6"/>
<ellipse cx="367.0" cy="84.9" rx="1.7" ry="0.5" fill="#4f86e0"/>
<ellipse cx="341.7" cy="88.7" rx="1.0" ry="0.8" fill="#2f66cc"/>
<ellipse cx="357.3" cy="98.0" rx="1.4" ry="0.5" fill="#9dbff0"/>
<ellipse cx="335.0" cy="81.5" rx="0.8" ry="1.0" fill="#ffffff"/>
<ellipse cx="312.8" cy="83.6" rx="0.6" ry="0.6" fill="#86aeec"/>
<ellipse cx="352.1" cy="86.5" rx="0.8" ry="1.0" fill="#9dbff0"/>
<ellipse cx="325.6" cy="82.9" rx="0.6" ry="0.9" fill="#2f66cc"/>
<ellipse cx="357.8" cy="93.0" rx="1.5" ry="0.6" fill="#86aeec"/>
<ellipse cx="344.4" cy="84.3" rx="2.0" ry="0.7" fill="#eef4fd"/>
<ellipse cx="329.2" cy="94.9" rx="1.8" ry="0.6" fill="#86aeec"/>
<ellipse cx="316.9" cy="95.5" rx="1.8" ry="0.6" fill="#6b9ae6"/>
<ellipse cx="316.9" cy="94.5" rx="1.5" ry="1.0" fill="#2f66cc"/>
<ellipse cx="322.8" cy="90.2" rx="2.1" ry="1.2" fill="#dbe8fb"/>
<ellipse cx="350.0" cy="85.5" rx="1.4" ry="0.4" fill="#4f86e0"/>
<ellipse cx="354.2" cy="93.1" rx="0.8" ry="0.5" fill="#f4f8fe"/>
<ellipse cx="320.4" cy="84.4" rx="2.1" ry="0.8" fill="#f4f8fe"/>
<ellipse cx="354.4" cy="88.0" rx="1.3" ry="0.9" fill="#dbe8fb"/>
<ellipse cx="312.2" cy="92.8" rx="0.9" ry="0.8" fill="#86aeec"/>
<ellipse cx="353.0" cy="89.4" rx="1.6" ry="0.5" fill="#86aeec"/>
<ellipse cx="356.0" cy="87.9" rx="1.7" ry="1.1" fill="#4f86e0"/>
<ellipse cx="346.8" cy="89.2" rx="1.4" ry="1.2" fill="#86aeec"/>
<ellipse cx="356.7" cy="86.7" rx="1.8" ry="1.0" fill="#4f86e0"/>
<ellipse cx="357.2" cy="89.3" rx="2.0" ry="1.0" fill="#eef4fd"/>
<ellipse cx="354.5" cy="95.8" rx="0.9" ry="0.5" fill="#2f66cc"/>
<ellipse cx="356.2" cy="87.5" rx="2.2" ry="1.1" fill="#dbe8fb"/>
<ellipse cx="314.3" cy="84.8" rx="1.1" ry="0.9" fill="#ffffff"/>
<ellipse cx="333.4" cy="97.0" rx="1.7" ry="1.0" fill="#86aeec"/>
<ellipse cx="366.5" cy="83.3" rx="1.8" ry="0.6" fill="#4f86e0"/>
<ellipse cx="334.0" cy="81.8" rx="1.6" ry="0.4" fill="#86aeec"/>
<ellipse cx="326.0" cy="84.2" rx="1.5" ry="0.8" fill="#eef4fd"/>
<ellipse cx="367.3" cy="93.1" rx="1.2" ry="1.2" fill="#ffffff"/>
<ellipse cx="333.1" cy="96.5" rx="1.5" ry="0.9" fill="#9dbff0"/>
<ellipse cx="327.5" cy="86.1" rx="1.2" ry="0.6" fill="#ffffff"/>
<ellipse cx="327.4" cy="91.2" rx="0.6" ry="1.0" fill="#ffffff"/>
<ellipse cx="344.4" cy="92.9" rx="1.2" ry="1.1" fill="#2f66cc"/>
<ellipse cx="353.5" cy="83.0" rx="0.7" ry="1.1" fill="#eef4fd"/>
<ellipse cx="366.1" cy="86.8" rx="2.1" ry="1.0" fill="#4f86e0"/>
<ellipse cx="337.8" cy="97.5" rx="1.6" ry="0.5" fill="#86aeec"/>
<ellipse cx="322.9" cy="80.4" rx="0.8" ry="0.8" fill="#6b9ae6"/>
<ellipse cx="326.2" cy="89.2" rx="1.2" ry="1.0" fill="#2f66cc"/>
<ellipse cx="357.2" cy="84.5" rx="1.8" ry="0.6" fill="#ffffff"/>
<ellipse cx="317.9" cy="95.4" rx="1.0" ry="0.9" fill="#eef4fd"/>
<ellipse cx="352.2" cy="94.8" rx="1.6" ry="1.0" fill="#86aeec"/>
<ellipse cx="322.1" cy="83.8" rx="2.0" ry="0.4" fill="#86aeec"/>
<ellipse cx="314.9" cy="84.7" rx="0.6" ry="0.4" fill="#2f66cc"/>
<ellipse cx="324.0" cy="84.2" rx="2.1" ry="0.5" fill="#4f86e0"/>
<ellipse cx="324.7" cy="95.9" rx="1.4" ry="0.6" fill="#9dbff0"/>
<ellipse cx="330.8" cy="92.4" rx="1.9" ry="0.8" fill="#4f86e0"/>
<ellipse cx="357.6" cy="96.9" rx="1.3" ry="1.0" fill="#86aeec"/>
<ellipse cx="333.4" cy="83.3" rx="1.6" ry="1.2" fill="#6b9ae6"/>
<ellipse cx="353.4" cy="98.7" rx="1.6" ry="0.9" fill="#2f66cc"/>
<ellipse cx="337.4" cy="86.7" rx="1.9" ry="0.8" fill="#6b9ae6"/>
<ellipse cx="357.7" cy="82.3" rx="0.9" ry="0.9" fill="#ffffff"/>
<path d="M309.50,79.55 C310.13,79.50 312.00,79.32 313.26,79.25 C314.51,79.19 315.76,79.24 317.01,79.15 C318.26,79.05 319.52,78.73 320.77,78.68 C322.02,78.64 323.27,78.79 324.52,78.88 C325.78,78.98 327.03,79.13 328.28,79.25 C329.53,79.37 330.79,79.42 332.04,79.62 C333.29,79.82 334.54,80.23 335.79,80.45 C337.05,80.66 338.30,80.75 339.55,80.92 C340.80,81.08 342.05,81.44 343.31,81.43 C344.56,81.43 345.81,80.95 347.06,80.89 C348.31,80.84 349.57,81.10 350.82,81.10 C352.07,81.10 353.32,80.78 354.58,80.89 C355.83,81.00 357.08,81.58 358.33,81.77 C359.58,81.96 360.84,82.02 362.09,82.02 C363.34,82.01 364.59,81.57 365.84,81.73 C367.10,81.89 368.97,82.77 369.60,82.98" stroke="#2f6ed8" stroke-width="1.8" fill="none"/>
<path d="M309.50,99.56 C310.13,99.45 312.00,99.06 313.26,98.86 C314.51,98.66 315.76,98.58 317.01,98.38 C318.26,98.17 319.52,97.81 320.77,97.63 C322.02,97.46 323.27,97.51 324.52,97.34 C325.78,97.16 327.03,96.59 328.28,96.60 C329.53,96.61 330.79,97.21 332.04,97.39 C333.29,97.58 334.54,97.51 335.79,97.73 C337.05,97.95 338.30,98.43 339.55,98.71 C340.80,98.99 342.05,99.18 343.31,99.40 C344.56,99.61 345.81,99.70 347.06,100.01 C348.31,100.31 349.57,101.16 350.82,101.21 C352.07,101.27 353.32,100.53 354.58,100.35 C355.83,100.17 357.08,100.14 358.33,100.12 C359.58,100.09 360.84,100.24 362.09,100.20 C363.34,100.16 364.59,99.92 365.84,99.87 C367.10,99.81 368.97,99.87 369.60,99.86" stroke="#2f70da" stroke-width="1.8" fill="none"/>
<path d="M309.50,89.25 C310.13,89.19 312.00,89.01 313.26,88.91 C314.51,88.80 315.76,88.72 317.01,88.62 C318.26,88.51 319.52,88.42 320.77,88.28 C322.02,88.15 323.27,87.90 324.52,87.80 C325.78,87.71 327.03,87.56 328.28,87.70 C329.53,87.83 330.79,88.31 332.04,88.60 C333.29,88.89 334.54,89.25 335.79,89.45 C337.05,89.65 338.30,89.67 339.55,89.80 C340.80,89.92 342.05,89.99 343.31,90.19 C344.56,90.39 345.81,90.82 347.06,91.00 C348.31,91.18 349.57,91.23 350.82,91.28 C352.07,91.34 353.32,91.33 354.58,91.32 C355.83,91.31 357.08,91.24 358.33,91.22 C359.58,91.21 360.84,91.26 362.09,91.20 C363.34,91.15 364.59,90.93 365.84,90.92 C367.10,90.90 368.97,91.10 369.60,91.13" stroke="#3f4cb4" stroke-width="2.5" fill="none"/>
<ellipse cx="312.2" cy="89.0" rx="0.9" ry="0.45" fill="#dfe4fa"/>
<ellipse cx="314.6" cy="89.4" rx="0.9" ry="0.45" fill="#dfe4fa"/>
<ellipse cx="317.6" cy="88.1" rx="0.9" ry="0.45" fill="#dfe4fa"/>
<ellipse cx="318.8" cy="88.1" rx="0.9" ry="0.45" fill="#dfe4fa"/>
<ellipse cx="321.0" cy="88.0" rx="0.9" ry="0.45" fill="#dfe4fa"/>
<ellipse cx="323.2" cy="87.7" rx="0.9" ry="0.45" fill="#dfe4fa"/>
<ellipse cx="325.6" cy="88.2" rx="0.9" ry="0.45" fill="#dfe4fa"/>
<ellipse cx="327.8" cy="88.2" rx="0.9" ry="0.45" fill="#dfe4fa"/>
<ellipse cx="329.9" cy="87.9" rx="0.9" ry="0.45" fill="#dfe4fa"/>
<ellipse cx="332.4" cy="89.2" rx="0.9" ry="0.45" fill="#dfe4fa"/>
<ellipse cx="333.8" cy="88.4" rx="0.9" ry="0.45" fill="#dfe4fa"/>
<ellipse cx="336.3" cy="89.5" rx="0.9" ry="0.45" fill="#dfe4fa"/>
<ellipse cx="338.6" cy="90.3" rx="0.9" ry="0.45" fill="#dfe4fa"/>
<ellipse cx="340.9" cy="90.4" rx="0.9" ry="0.45" fill="#dfe4fa"/>
<ellipse cx="342.0" cy="90.3" rx="0.9" ry="0.45" fill="#dfe4fa"/>
<ellipse cx="345.4" cy="90.2" rx="0.9" ry="0.45" fill="#dfe4fa"/>
<ellipse cx="346.4" cy="91.1" rx="0.9" ry="0.45" fill="#dfe4fa"/>
<ellipse cx="349.9" cy="90.7" rx="0.9" ry="0.45" fill="#dfe4fa"/>
<ellipse cx="351.6" cy="90.8" rx="0.9" ry="0.45" fill="#dfe4fa"/>
<ellipse cx="354.0" cy="91.3" rx="0.9" ry="0.45" fill="#dfe4fa"/>
<ellipse cx="355.3" cy="90.7" rx="0.9" ry="0.45" fill="#dfe4fa"/>
<ellipse cx="358.3" cy="91.0" rx="0.9" ry="0.45" fill="#dfe4fa"/>
<ellipse cx="360.5" cy="90.8" rx="0.9" ry="0.45" fill="#dfe4fa"/>
<ellipse cx="361.9" cy="91.5" rx="0.9" ry="0.45" fill="#dfe4fa"/>
<ellipse cx="364.7" cy="90.9" rx="0.9" ry="0.45" fill="#dfe4fa"/>
<ellipse cx="366.6" cy="91.2" rx="0.9" ry="0.45" fill="#dfe4fa"/>
</g></g>
<line x1="358.6" y1="111.1" x2="365.2" y2="111.1" stroke="#333" stroke-width="0.9"/>
<rect x="312.25" y="67.05" width="54.60" height="45.90" fill="none" stroke="#262626" stroke-width="1.5"/>
<rect x="370.5" y="66.3" width="55.70" height="47.40" fill="#fff"/>
<g clip-path="url(#cm2)"><g filter="url(#b03)">
<path d="M368.50,73.61 C369.12,73.63 370.99,73.81 372.23,73.72 C373.47,73.64 374.72,73.16 375.96,73.11 C377.21,73.06 378.45,73.41 379.69,73.42 C380.94,73.43 382.18,73.19 383.43,73.15 C384.67,73.12 385.91,73.25 387.16,73.23 C388.40,73.22 389.64,73.12 390.89,73.08 C392.13,73.04 393.38,73.01 394.62,73.00 C395.86,72.99 397.11,72.99 398.35,73.01 C399.59,73.04 400.84,73.17 402.08,73.16 C403.32,73.14 404.57,72.96 405.81,72.91 C407.06,72.86 408.30,72.83 409.54,72.87 C410.79,72.90 412.03,73.05 413.27,73.13 C414.52,73.20 415.76,73.31 417.01,73.29 C418.25,73.27 419.49,73.02 420.74,72.98 C421.98,72.94 423.23,73.07 424.47,73.05 C425.71,73.03 427.58,72.88 428.20,72.85 L428.20,104.54 C427.58,104.60 425.71,104.93 424.47,104.91 C423.23,104.89 421.98,104.51 420.74,104.41 C419.49,104.32 418.25,104.31 417.01,104.33 C415.76,104.34 414.52,104.40 413.27,104.49 C412.03,104.57 410.79,104.77 409.54,104.83 C408.30,104.88 407.06,104.69 405.81,104.82 C404.57,104.95 403.32,105.62 402.08,105.62 C400.84,105.62 399.59,104.90 398.35,104.83 C397.11,104.76 395.86,105.15 394.62,105.20 C393.38,105.25 392.13,105.01 390.89,105.16 C389.64,105.30 388.40,105.84 387.16,106.08 C385.91,106.31 384.67,106.54 383.43,106.59 C382.18,106.64 380.94,106.37 379.69,106.38 C378.45,106.39 377.21,106.47 375.96,106.64 C374.72,106.82 373.47,107.22 372.23,107.43 C370.99,107.63 369.12,107.81 368.50,107.88 Z" fill="#d3e4f9"/>
<path d="M368.50,85.42 C369.12,85.28 370.99,84.72 372.23,84.55 C373.47,84.38 374.72,84.45 375.96,84.41 C377.21,84.36 378.45,84.32 379.69,84.27 C380.94,84.21 382.18,84.15 383.43,84.09 C384.67,84.03 385.91,83.91 387.16,83.91 C388.40,83.90 389.64,84.10 390.89,84.09 C392.13,84.08 393.38,83.97 394.62,83.87 C395.86,83.77 397.11,83.57 398.35,83.50 C399.59,83.44 400.84,83.47 402.08,83.48 C403.32,83.49 404.57,83.56 405.81,83.56 C407.06,83.56 408.30,83.42 409.54,83.48 C410.79,83.55 412.03,83.93 413.27,83.96 C414.52,83.98 415.76,83.63 417.01,83.61 C418.25,83.58 419.49,83.73 420.74,83.80 C421.98,83.87 423.23,84.03 424.47,84.02 C425.71,84.01 427.58,83.80 428.20,83.76 L428.20,88.56 C427.58,88.65 425.71,88.99 424.47,89.08 C423.23,89.18 421.98,89.19 420.74,89.13 C419.49,89.07 418.25,88.74 417.01,88.70 C415.76,88.66 414.52,88.80 413.27,88.89 C412.03,88.98 410.79,89.24 409.54,89.24 C408.30,89.24 407.06,88.97 405.81,88.88 C404.57,88.79 403.32,88.75 402.08,88.70 C400.84,88.65 399.59,88.47 398.35,88.59 C397.11,88.70 395.86,89.25 394.62,89.39 C393.38,89.52 392.13,89.41 390.89,89.40 C389.64,89.39 388.40,89.27 387.16,89.31 C385.91,89.36 384.67,89.57 383.43,89.67 C382.18,89.77 380.94,89.86 379.69,89.91 C378.45,89.96 377.21,89.82 375.96,89.96 C374.72,90.11 373.47,90.65 372.23,90.78 C370.99,90.91 369.12,90.73 368.50,90.73 Z" fill="#f5f9fe"/>
<path d="M368.50,95.89 C369.12,95.82 370.99,95.52 372.23,95.46 C373.47,95.40 374.72,95.59 375.96,95.54 C377.21,95.49 378.45,95.22 379.69,95.17 C380.94,95.12 382.18,95.27 383.43,95.22 C384.67,95.17 385.91,94.98 387.16,94.86 C388.40,94.74 389.64,94.63 390.89,94.49 C392.13,94.34 393.38,94.09 394.62,93.99 C395.86,93.89 397.11,93.90 398.35,93.90 C399.59,93.89 400.84,93.98 402.08,93.97 C403.32,93.97 404.57,93.81 405.81,93.87 C407.06,93.92 408.30,94.28 409.54,94.30 C410.79,94.31 412.03,94.01 413.27,93.96 C414.52,93.91 415.76,93.96 417.01,94.00 C418.25,94.05 419.49,94.30 420.74,94.23 C421.98,94.16 423.23,93.67 424.47,93.59 C425.71,93.51 427.58,93.73 428.20,93.75 L428.20,95.31 C427.58,95.41 425.71,95.87 424.47,95.87 C423.23,95.87 421.98,95.30 420.74,95.32 C419.49,95.35 418.25,95.91 417.01,96.05 C415.76,96.18 414.52,96.11 413.27,96.14 C412.03,96.16 410.79,96.26 409.54,96.18 C408.30,96.10 407.06,95.71 405.81,95.66 C404.57,95.61 403.32,95.77 402.08,95.88 C400.84,95.98 399.59,96.30 398.35,96.30 C397.11,96.31 395.86,95.90 394.62,95.91 C393.38,95.91 392.13,96.23 390.89,96.35 C389.64,96.48 388.40,96.48 387.16,96.65 C385.91,96.82 384.67,97.23 383.43,97.35 C382.18,97.46 380.94,97.27 379.69,97.36 C378.45,97.45 377.21,97.82 375.96,97.88 C374.72,97.95 373.47,97.66 372.23,97.75 C370.99,97.83 369.12,98.29 368.50,98.40 Z" fill="#eaf2fd"/>
<ellipse cx="393.7" cy="101.6" rx="1.3" ry="0.4" fill="#4f86e0"/>
<ellipse cx="393.5" cy="88.9" rx="2.2" ry="0.9" fill="#dbe8fb"/>
<ellipse cx="374.2" cy="76.9" rx="1.7" ry="1.0" fill="#eef4fd"/>
<ellipse cx="414.2" cy="77.8" rx="1.7" ry="0.8" fill="#eef4fd"/>
<ellipse cx="386.8" cy="77.7" rx="2.0" ry="1.0" fill="#3a72d6"/>
<ellipse cx="420.7" cy="78.7" rx="1.8" ry="1.2" fill="#2f66cc"/>
<ellipse cx="375.3" cy="80.5" rx="1.1" ry="1.2" fill="#2f66cc"/>
<ellipse cx="401.8" cy="95.6" rx="0.8" ry="0.5" fill="#ffffff"/>
<ellipse cx="408.2" cy="95.0" rx="1.5" ry="0.5" fill="#ffffff"/>
<ellipse cx="383.1" cy="79.1" rx="1.8" ry="0.7" fill="#4f86e0"/>
<ellipse cx="416.4" cy="101.3" rx="1.8" ry="1.1" fill="#6b9ae6"/>
<ellipse cx="392.0" cy="84.0" rx="1.6" ry="0.7" fill="#2f66cc"/>
<ellipse cx="414.4" cy="81.4" rx="1.1" ry="0.9" fill="#ffffff"/>
<ellipse cx="376.4" cy="86.3" rx="1.6" ry="0.5" fill="#eef4fd"/>
<ellipse cx="413.2" cy="100.7" rx="1.4" ry="0.5" fill="#86aeec"/>
<ellipse cx="410.2" cy="103.2" rx="0.6" ry="0.9" fill="#86aeec"/>
<ellipse cx="413.8" cy="78.2" rx="1.7" ry="0.7" fill="#9dbff0"/>
<ellipse cx="422.2" cy="84.8" rx="1.0" ry="0.9" fill="#f4f8fe"/>
<ellipse cx="400.9" cy="75.9" rx="1.6" ry="0.5" fill="#eef4fd"/>
<ellipse cx="416.4" cy="82.7" rx="1.9" ry="0.5" fill="#eef4fd"/>
<ellipse cx="401.0" cy="76.3" rx="1.9" ry="1.1" fill="#3a72d6"/>
<ellipse cx="426.1" cy="78.4" rx="1.6" ry="1.0" fill="#2f66cc"/>
<ellipse cx="379.3" cy="87.2" rx="0.9" ry="0.8" fill="#6b9ae6"/>
<ellipse cx="378.6" cy="104.2" rx="1.3" ry="0.9" fill="#4f86e0"/>
<ellipse cx="408.9" cy="96.5" rx="2.2" ry="1.1" fill="#ffffff"/>
<ellipse cx="418.1" cy="86.2" rx="1.4" ry="0.8" fill="#ffffff"/>
<ellipse cx="394.6" cy="101.2" rx="1.1" ry="0.9" fill="#eef4fd"/>
<ellipse cx="394.6" cy="85.3" rx="1.0" ry="1.1" fill="#ffffff"/>
<ellipse cx="384.0" cy="101.0" rx="0.8" ry="1.1" fill="#3a72d6"/>
<ellipse cx="422.9" cy="99.7" rx="1.3" ry="1.0" fill="#eef4fd"/>
<ellipse cx="382.9" cy="97.3" rx="0.8" ry="1.0" fill="#4f86e0"/>
<ellipse cx="377.4" cy="91.2" rx="1.8" ry="0.4" fill="#ffffff"/>
<ellipse cx="380.1" cy="88.0" rx="1.7" ry="0.6" fill="#dbe8fb"/>
<ellipse cx="387.6" cy="88.0" rx="2.0" ry="0.6" fill="#6b9ae6"/>
<ellipse cx="373.8" cy="84.5" rx="0.6" ry="0.9" fill="#eef4fd"/>
<ellipse cx="400.2" cy="81.0" rx="1.1" ry="1.1" fill="#3a72d6"/>
<ellipse cx="424.0" cy="82.3" rx="0.8" ry="1.0" fill="#2f66cc"/>
<ellipse cx="422.7" cy="87.2" rx="1.0" ry="1.0" fill="#f4f8fe"/>
<ellipse cx="398.4" cy="82.8" rx="1.7" ry="1.1" fill="#ffffff"/>
<ellipse cx="403.4" cy="80.8" rx="0.9" ry="0.6" fill="#ffffff"/>
<ellipse cx="396.3" cy="76.2" rx="0.7" ry="0.9" fill="#4f86e0"/>
<ellipse cx="386.3" cy="81.9" rx="1.0" ry="0.6" fill="#ffffff"/>
<ellipse cx="401.0" cy="79.6" rx="0.7" ry="0.8" fill="#6b9ae6"/>
<ellipse cx="412.3" cy="85.5" rx="1.1" ry="0.8" fill="#dbe8fb"/>
<ellipse cx="372.3" cy="83.8" rx="1.8" ry="0.5" fill="#6b9ae6"/>
<ellipse cx="401.0" cy="81.6" rx="2.0" ry="0.9" fill="#ffffff"/>
<ellipse cx="385.1" cy="80.5" rx="2.0" ry="0.5" fill="#3a72d6"/>
<ellipse cx="379.0" cy="75.0" rx="1.4" ry="1.0" fill="#9dbff0"/>
<ellipse cx="418.2" cy="75.2" rx="1.5" ry="0.8" fill="#4f86e0"/>
<ellipse cx="414.6" cy="81.2" rx="0.7" ry="0.7" fill="#eef4fd"/>
<ellipse cx="405.1" cy="89.7" rx="1.4" ry="0.9" fill="#ffffff"/>
<ellipse cx="398.9" cy="85.3" rx="1.3" ry="1.0" fill="#6b9ae6"/>
<ellipse cx="409.7" cy="102.4" rx="1.8" ry="1.2" fill="#6b9ae6"/>
<ellipse cx="378.6" cy="88.6" rx="0.8" ry="0.7" fill="#eef4fd"/>
<ellipse cx="387.1" cy="87.1" rx="1.1" ry="0.5" fill="#f4f8fe"/>
<ellipse cx="418.1" cy="86.4" rx="2.1" ry="1.1" fill="#dbe8fb"/>
<ellipse cx="382.7" cy="79.3" rx="1.5" ry="1.1" fill="#3a72d6"/>
<ellipse cx="419.8" cy="101.1" rx="1.2" ry="1.1" fill="#6b9ae6"/>
<ellipse cx="391.7" cy="97.6" rx="1.0" ry="1.0" fill="#86aeec"/>
<ellipse cx="415.3" cy="88.3" rx="1.4" ry="0.8" fill="#eef4fd"/>
<ellipse cx="405.4" cy="79.4" rx="1.3" ry="0.4" fill="#eef4fd"/>
<ellipse cx="385.9" cy="103.2" rx="1.8" ry="0.8" fill="#3a72d6"/>
<ellipse cx="382.6" cy="77.5" rx="0.8" ry="0.6" fill="#eef4fd"/>
<ellipse cx="417.3" cy="77.7" rx="1.3" ry="1.1" fill="#eef4fd"/>
<ellipse cx="391.7" cy="81.8" rx="1.6" ry="0.8" fill="#3a72d6"/>
<ellipse cx="381.0" cy="90.2" rx="1.3" ry="0.8" fill="#eef4fd"/>
<ellipse cx="409.2" cy="89.4" rx="1.3" ry="0.7" fill="#ffffff"/>
<ellipse cx="419.5" cy="98.5" rx="1.2" ry="1.1" fill="#9dbff0"/>
<ellipse cx="383.1" cy="83.3" rx="0.8" ry="1.1" fill="#eef4fd"/>
<ellipse cx="412.1" cy="88.4" rx="1.1" ry="0.9" fill="#3a72d6"/>
<ellipse cx="421.7" cy="80.6" rx="2.1" ry="1.1" fill="#eef4fd"/>
<ellipse cx="375.5" cy="87.9" rx="1.1" ry="1.0" fill="#dbe8fb"/>
<ellipse cx="382.8" cy="102.8" rx="0.9" ry="0.9" fill="#86aeec"/>
<ellipse cx="383.9" cy="77.2" rx="1.9" ry="0.8" fill="#eef4fd"/>
<ellipse cx="384.8" cy="100.3" rx="0.6" ry="0.7" fill="#ffffff"/>
<ellipse cx="390.8" cy="76.0" rx="1.4" ry="0.9" fill="#eef4fd"/>
<ellipse cx="396.6" cy="83.7" rx="1.2" ry="1.1" fill="#ffffff"/>
<ellipse cx="402.0" cy="81.8" rx="1.2" ry="0.7" fill="#6b9ae6"/>
<ellipse cx="420.5" cy="75.2" rx="1.6" ry="0.9" fill="#86aeec"/>
<ellipse cx="393.4" cy="86.5" rx="1.2" ry="1.1" fill="#eef4fd"/>
<ellipse cx="372.6" cy="78.9" rx="1.2" ry="1.2" fill="#ffffff"/>
<ellipse cx="378.8" cy="80.4" rx="1.0" ry="0.4" fill="#ffffff"/>
<ellipse cx="400.8" cy="85.8" rx="1.8" ry="0.5" fill="#86aeec"/>
<ellipse cx="416.4" cy="100.0" rx="2.0" ry="0.7" fill="#ffffff"/>
<ellipse cx="408.7" cy="102.6" rx="1.9" ry="0.6" fill="#eef4fd"/>
<ellipse cx="393.6" cy="85.1" rx="2.1" ry="1.0" fill="#f4f8fe"/>
<ellipse cx="419.4" cy="103.0" rx="1.1" ry="1.1" fill="#4f86e0"/>
<ellipse cx="393.5" cy="88.5" rx="1.2" ry="0.9" fill="#dbe8fb"/>
<ellipse cx="380.7" cy="100.8" rx="1.9" ry="0.9" fill="#86aeec"/>
<ellipse cx="393.9" cy="95.3" rx="1.6" ry="0.6" fill="#6b9ae6"/>
<ellipse cx="406.8" cy="102.9" rx="2.1" ry="1.2" fill="#9dbff0"/>
<ellipse cx="392.6" cy="102.1" rx="2.0" ry="0.6" fill="#ffffff"/>
<ellipse cx="390.4" cy="90.4" rx="2.0" ry="1.1" fill="#4f86e0"/>
<ellipse cx="418.2" cy="79.3" rx="1.9" ry="1.1" fill="#4f86e0"/>
<ellipse cx="386.3" cy="86.2" rx="1.2" ry="1.0" fill="#2f66cc"/>
<ellipse cx="400.9" cy="97.9" rx="1.9" ry="0.8" fill="#6b9ae6"/>
<ellipse cx="420.4" cy="99.8" rx="2.0" ry="0.6" fill="#eef4fd"/>
<ellipse cx="402.2" cy="82.2" rx="0.7" ry="0.6" fill="#ffffff"/>
<ellipse cx="378.9" cy="74.7" rx="0.6" ry="0.7" fill="#ffffff"/>
<ellipse cx="378.3" cy="99.0" rx="1.3" ry="1.0" fill="#2f66cc"/>
<ellipse cx="392.6" cy="75.8" rx="2.0" ry="1.2" fill="#eef4fd"/>
<ellipse cx="395.2" cy="99.1" rx="2.1" ry="0.8" fill="#ffffff"/>
<ellipse cx="408.1" cy="82.1" rx="1.1" ry="0.8" fill="#3a72d6"/>
<ellipse cx="371.1" cy="81.3" rx="1.9" ry="1.0" fill="#eef4fd"/>
<ellipse cx="411.5" cy="85.9" rx="1.0" ry="1.1" fill="#6b9ae6"/>
<ellipse cx="383.2" cy="86.2" rx="1.6" ry="0.8" fill="#dbe8fb"/>
<ellipse cx="387.9" cy="76.2" rx="1.0" ry="0.6" fill="#eef4fd"/>
<ellipse cx="380.5" cy="75.9" rx="1.7" ry="0.5" fill="#6b9ae6"/>
<ellipse cx="376.4" cy="79.0" rx="0.6" ry="0.8" fill="#ffffff"/>
<ellipse cx="393.0" cy="83.7" rx="1.1" ry="1.0" fill="#ffffff"/>
<ellipse cx="376.5" cy="105.3" rx="2.1" ry="0.8" fill="#2f66cc"/>
<ellipse cx="414.0" cy="100.2" rx="2.1" ry="0.7" fill="#eef4fd"/>
<ellipse cx="380.7" cy="85.4" rx="0.7" ry="0.9" fill="#eef4fd"/>
<ellipse cx="389.7" cy="87.4" rx="0.8" ry="1.0" fill="#ffffff"/>
<ellipse cx="411.9" cy="87.0" rx="1.2" ry="0.8" fill="#f4f8fe"/>
<ellipse cx="372.9" cy="103.5" rx="1.5" ry="0.9" fill="#9dbff0"/>
<ellipse cx="422.4" cy="78.7" rx="1.0" ry="0.9" fill="#9dbff0"/>
<ellipse cx="381.0" cy="88.9" rx="2.0" ry="0.5" fill="#ffffff"/>
<ellipse cx="380.9" cy="102.9" rx="1.9" ry="0.8" fill="#6b9ae6"/>
<ellipse cx="425.8" cy="76.3" rx="1.0" ry="1.0" fill="#3a72d6"/>
<ellipse cx="395.8" cy="90.1" rx="2.1" ry="0.6" fill="#eef4fd"/>
<ellipse cx="376.5" cy="88.3" rx="2.0" ry="1.0" fill="#6b9ae6"/>
<ellipse cx="401.1" cy="101.1" rx="0.9" ry="0.7" fill="#6b9ae6"/>
<ellipse cx="422.2" cy="101.9" rx="0.8" ry="0.5" fill="#86aeec"/>
<ellipse cx="392.1" cy="99.6" rx="0.7" ry="1.2" fill="#9dbff0"/>
<ellipse cx="419.3" cy="95.4" rx="1.2" ry="1.1" fill="#86aeec"/>
<ellipse cx="409.5" cy="99.0" rx="0.9" ry="0.6" fill="#ffffff"/>
<ellipse cx="413.2" cy="79.2" rx="0.8" ry="1.2" fill="#eef4fd"/>
<ellipse cx="404.5" cy="84.7" rx="2.0" ry="1.0" fill="#dbe8fb"/>
<ellipse cx="381.7" cy="76.6" rx="1.9" ry="0.7" fill="#ffffff"/>
<ellipse cx="395.9" cy="89.2" rx="1.7" ry="0.6" fill="#4f86e0"/>
<ellipse cx="402.8" cy="82.5" rx="0.7" ry="0.9" fill="#ffffff"/>
<ellipse cx="383.1" cy="89.0" rx="1.6" ry="0.7" fill="#6b9ae6"/>
<ellipse cx="407.2" cy="82.0" rx="1.0" ry="0.7" fill="#3a72d6"/>
<ellipse cx="377.9" cy="102.3" rx="1.0" ry="0.5" fill="#ffffff"/>
<ellipse cx="419.5" cy="96.6" rx="0.8" ry="1.1" fill="#4f86e0"/>
<ellipse cx="375.4" cy="85.9" rx="1.9" ry="1.1" fill="#eef4fd"/>
<ellipse cx="407.7" cy="78.7" rx="1.3" ry="0.7" fill="#4f86e0"/>
<ellipse cx="424.6" cy="102.5" rx="1.0" ry="0.8" fill="#2f66cc"/>
<path d="M368.50,73.61 C369.12,73.63 370.99,73.81 372.23,73.72 C373.47,73.64 374.72,73.16 375.96,73.11 C377.21,73.06 378.45,73.41 379.69,73.42 C380.94,73.43 382.18,73.19 383.43,73.15 C384.67,73.12 385.91,73.25 387.16,73.23 C388.40,73.22 389.64,73.12 390.89,73.08 C392.13,73.04 393.38,73.01 394.62,73.00 C395.86,72.99 397.11,72.99 398.35,73.01 C399.59,73.04 400.84,73.17 402.08,73.16 C403.32,73.14 404.57,72.96 405.81,72.91 C407.06,72.86 408.30,72.83 409.54,72.87 C410.79,72.90 412.03,73.05 413.27,73.13 C414.52,73.20 415.76,73.31 417.01,73.29 C418.25,73.27 419.49,73.02 420.74,72.98 C421.98,72.94 423.23,73.07 424.47,73.05 C425.71,73.03 427.58,72.88 428.20,72.85" stroke="#2f6ed8" stroke-width="2.6" fill="none"/>
<path d="M368.50,107.88 C369.12,107.81 370.99,107.63 372.23,107.43 C373.47,107.22 374.72,106.82 375.96,106.64 C377.21,106.47 378.45,106.39 379.69,106.38 C380.94,106.37 382.18,106.64 383.43,106.59 C384.67,106.54 385.91,106.31 387.16,106.08 C388.40,105.84 389.64,105.30 390.89,105.16 C392.13,105.01 393.38,105.25 394.62,105.20 C395.86,105.15 397.11,104.76 398.35,104.83 C399.59,104.90 400.84,105.62 402.08,105.62 C403.32,105.62 404.57,104.95 405.81,104.82 C407.06,104.69 408.30,104.88 409.54,104.83 C410.79,104.77 412.03,104.57 413.27,104.49 C414.52,104.40 415.76,104.34 417.01,104.33 C418.25,104.31 419.49,104.32 420.74,104.41 C421.98,104.51 423.23,104.89 424.47,104.91 C425.71,104.93 427.58,104.60 428.20,104.54" stroke="#2f70da" stroke-width="2.6" fill="none"/>
<path d="M368.50,70.30 C369.12,70.29 370.99,70.26 372.23,70.23 C373.47,70.21 374.72,70.18 375.96,70.15 C377.21,70.12 378.45,70.10 379.69,70.07 C380.94,70.04 382.18,70.02 383.43,69.99 C384.67,69.96 385.91,69.93 387.16,69.91 C388.40,69.88 389.64,69.86 390.89,69.83 C392.13,69.79 393.38,69.75 394.62,69.72 C395.86,69.70 397.11,69.68 398.35,69.69 C399.59,69.70 400.84,69.75 402.08,69.78 C403.32,69.81 404.57,69.84 405.81,69.87 C407.06,69.90 408.30,69.93 409.54,69.96 C410.79,69.99 412.03,70.02 413.27,70.05 C414.52,70.08 415.76,70.11 417.01,70.14 C418.25,70.17 419.49,70.20 420.74,70.23 C421.98,70.26 423.23,70.29 424.47,70.32 C425.71,70.35 427.58,70.39 428.20,70.40" stroke="#7aa4e6" stroke-width="0.8" fill="none"/>
<path d="M368.50,94.15 C369.12,94.10 370.99,93.88 372.23,93.88 C373.47,93.88 374.72,94.20 375.96,94.17 C377.21,94.14 378.45,93.80 379.69,93.69 C380.94,93.57 382.18,93.55 383.43,93.49 C384.67,93.43 385.91,93.42 387.16,93.30 C388.40,93.18 389.64,92.88 390.89,92.77 C392.13,92.67 393.38,92.72 394.62,92.68 C395.86,92.64 397.11,92.54 398.35,92.54 C399.59,92.54 400.84,92.70 402.08,92.69 C403.32,92.68 404.57,92.54 405.81,92.46 C407.06,92.37 408.30,92.14 409.54,92.16 C410.79,92.17 412.03,92.55 413.27,92.53 C414.52,92.51 415.76,92.01 417.01,92.01 C418.25,92.01 419.49,92.48 420.74,92.54 C421.98,92.59 423.23,92.36 424.47,92.33 C425.71,92.30 427.58,92.34 428.20,92.34" stroke="#3f4cb4" stroke-width="3.0" fill="none"/>
<ellipse cx="372.3" cy="94.3" rx="0.9" ry="0.45" fill="#dfe4fa"/>
<ellipse cx="374.5" cy="93.9" rx="0.9" ry="0.45" fill="#dfe4fa"/>
<ellipse cx="376.5" cy="93.7" rx="0.9" ry="0.45" fill="#dfe4fa"/>
<ellipse cx="377.4" cy="93.6" rx="0.9" ry="0.45" fill="#dfe4fa"/>
<ellipse cx="379.9" cy="94.0" rx="0.9" ry="0.45" fill="#dfe4fa"/>
<ellipse cx="382.9" cy="92.9" rx="0.9" ry="0.45" fill="#dfe4fa"/>
<ellipse cx="384.3" cy="93.3" rx="0.9" ry="0.45" fill="#dfe4fa"/>
<ellipse cx="387.4" cy="93.4" rx="0.9" ry="0.45" fill="#dfe4fa"/>
<ellipse cx="388.0" cy="93.6" rx="0.9" ry="0.45" fill="#dfe4fa"/>
<ellipse cx="391.0" cy="92.2" rx="0.9" ry="0.45" fill="#dfe4fa"/>
<ellipse cx="392.5" cy="92.9" rx="0.9" ry="0.45" fill="#dfe4fa"/>
<ellipse cx="395.2" cy="92.4" rx="0.9" ry="0.45" fill="#dfe4fa"/>
<ellipse cx="397.0" cy="92.3" rx="0.9" ry="0.45" fill="#dfe4fa"/>
<ellipse cx="399.6" cy="92.5" rx="0.9" ry="0.45" fill="#dfe4fa"/>
<ellipse cx="402.4" cy="92.6" rx="0.9" ry="0.45" fill="#dfe4fa"/>
<ellipse cx="403.1" cy="92.0" rx="0.9" ry="0.45" fill="#dfe4fa"/>
<ellipse cx="405.2" cy="92.9" rx="0.9" ry="0.45" fill="#dfe4fa"/>
<ellipse cx="408.5" cy="92.4" rx="0.9" ry="0.45" fill="#dfe4fa"/>
<ellipse cx="409.5" cy="92.5" rx="0.9" ry="0.45" fill="#dfe4fa"/>
<ellipse cx="411.7" cy="92.5" rx="0.9" ry="0.45" fill="#dfe4fa"/>
<ellipse cx="415.2" cy="92.6" rx="0.9" ry="0.45" fill="#dfe4fa"/>
<ellipse cx="415.9" cy="92.7" rx="0.9" ry="0.45" fill="#dfe4fa"/>
<ellipse cx="418.2" cy="92.6" rx="0.9" ry="0.45" fill="#dfe4fa"/>
<ellipse cx="420.2" cy="92.6" rx="0.9" ry="0.45" fill="#dfe4fa"/>
<ellipse cx="422.8" cy="92.0" rx="0.9" ry="0.45" fill="#dfe4fa"/>
<ellipse cx="425.3" cy="92.1" rx="0.9" ry="0.45" fill="#dfe4fa"/>
</g></g>
<line x1="417.2" y1="111.1" x2="423.8" y2="111.1" stroke="#333" stroke-width="0.9"/>
<rect x="371.25" y="67.05" width="54.20" height="45.90" fill="none" stroke="#262626" stroke-width="1.5"/>
<rect x="311.5" y="116.3" width="56.10" height="47.40" fill="#fff"/>
<g clip-path="url(#cm3)"><g filter="url(#b03)">
<path d="M309.50,128.99 C310.13,129.03 312.00,129.26 313.26,129.19 C314.51,129.12 315.76,128.67 317.01,128.56 C318.26,128.45 319.52,128.57 320.77,128.52 C322.02,128.48 323.27,128.43 324.52,128.28 C325.78,128.13 327.03,127.80 328.28,127.64 C329.53,127.47 330.79,127.41 332.04,127.30 C333.29,127.18 334.54,127.00 335.79,126.96 C337.05,126.91 338.30,127.04 339.55,127.03 C340.80,127.02 342.05,126.90 343.31,126.90 C344.56,126.90 345.81,126.85 347.06,127.04 C348.31,127.23 349.57,127.88 350.82,128.01 C352.07,128.14 353.32,127.66 354.58,127.82 C355.83,127.98 357.08,128.82 358.33,128.97 C359.58,129.12 360.84,128.80 362.09,128.72 C363.34,128.64 364.59,128.36 365.84,128.48 C367.10,128.61 368.97,129.32 369.60,129.48 L369.60,148.73 C368.97,148.58 367.10,147.90 365.84,147.82 C364.59,147.74 363.34,148.26 362.09,148.25 C360.84,148.25 359.58,147.84 358.33,147.80 C357.08,147.77 355.83,148.08 354.58,148.04 C353.32,148.00 352.07,147.68 350.82,147.57 C349.57,147.45 348.31,147.31 347.06,147.34 C345.81,147.36 344.56,147.83 343.31,147.73 C342.05,147.63 340.80,146.96 339.55,146.75 C338.30,146.53 337.05,146.59 335.79,146.43 C334.54,146.27 333.29,145.91 332.04,145.80 C330.79,145.69 329.53,145.71 328.28,145.78 C327.03,145.84 325.78,146.03 324.52,146.16 C323.27,146.30 322.02,146.54 320.77,146.58 C319.52,146.62 318.26,146.36 317.01,146.40 C315.76,146.44 314.51,146.73 313.26,146.81 C312.00,146.90 310.13,146.90 309.50,146.92 Z" fill="#a8c7f2"/>
<path d="M309.50,134.68 C310.13,134.63 312.00,134.45 313.26,134.36 C314.51,134.28 315.76,134.32 317.01,134.16 C318.26,133.99 319.52,133.50 320.77,133.37 C322.02,133.25 323.27,133.35 324.52,133.40 C325.78,133.44 327.03,133.69 328.28,133.63 C329.53,133.57 330.79,133.16 332.04,133.05 C333.29,132.94 334.54,132.96 335.79,132.98 C337.05,132.99 338.30,133.16 339.55,133.14 C340.80,133.12 342.05,132.81 343.31,132.85 C344.56,132.89 345.81,133.30 347.06,133.38 C348.31,133.47 349.57,133.23 350.82,133.37 C352.07,133.51 353.32,134.07 354.58,134.21 C355.83,134.36 357.08,134.22 358.33,134.23 C359.58,134.25 360.84,134.17 362.09,134.30 C363.34,134.43 364.59,134.92 365.84,135.03 C367.10,135.14 368.97,134.96 369.60,134.95 L369.60,136.61 C368.97,136.50 367.10,136.03 365.84,135.98 C364.59,135.92 363.34,136.34 362.09,136.27 C360.84,136.20 359.58,135.70 358.33,135.55 C357.08,135.41 355.83,135.49 354.58,135.40 C353.32,135.30 352.07,135.04 350.82,135.00 C349.57,134.96 348.31,135.25 347.06,135.17 C345.81,135.08 344.56,134.54 343.31,134.48 C342.05,134.42 340.80,134.87 339.55,134.83 C338.30,134.79 337.05,134.29 335.79,134.25 C334.54,134.21 333.29,134.46 332.04,134.59 C330.79,134.71 329.53,134.87 328.28,134.99 C327.03,135.11 325.78,135.27 324.52,135.33 C323.27,135.39 322.02,135.33 320.77,135.33 C319.52,135.33 318.26,135.34 317.01,135.34 C315.76,135.34 314.51,135.25 313.26,135.35 C312.00,135.45 310.13,135.84 309.50,135.94 Z" fill="#dce9fb"/>
<path d="M309.50,139.54 C310.13,139.55 312.00,139.64 313.26,139.59 C314.51,139.54 315.76,139.32 317.01,139.23 C318.26,139.14 319.52,139.13 320.77,139.03 C322.02,138.93 323.27,138.73 324.52,138.64 C325.78,138.55 327.03,138.57 328.28,138.51 C329.53,138.46 330.79,138.30 332.04,138.30 C333.29,138.30 334.54,138.42 335.79,138.50 C337.05,138.57 338.30,138.56 339.55,138.74 C340.80,138.92 342.05,139.43 343.31,139.56 C344.56,139.68 345.81,139.47 347.06,139.49 C348.31,139.51 349.57,139.64 350.82,139.67 C352.07,139.70 353.32,139.64 354.58,139.68 C355.83,139.72 357.08,139.83 358.33,139.92 C359.58,140.01 360.84,140.09 362.09,140.21 C363.34,140.33 364.59,140.57 365.84,140.65 C367.10,140.72 368.97,140.67 369.60,140.67 L369.60,141.88 C368.97,141.80 367.10,141.46 365.84,141.40 C364.59,141.35 363.34,141.51 362.09,141.55 C360.84,141.59 359.58,141.70 358.33,141.64 C357.08,141.58 355.83,141.32 354.58,141.18 C353.32,141.05 352.07,140.89 350.82,140.84 C349.57,140.78 348.31,140.85 347.06,140.84 C345.81,140.82 344.56,140.81 343.31,140.73 C342.05,140.65 340.80,140.56 339.55,140.36 C338.30,140.17 337.05,139.72 335.79,139.55 C334.54,139.38 333.29,139.27 332.04,139.35 C330.79,139.44 329.53,139.97 328.28,140.05 C327.03,140.13 325.78,139.74 324.52,139.83 C323.27,139.91 322.02,140.39 320.77,140.53 C319.52,140.68 318.26,140.61 317.01,140.69 C315.76,140.76 314.51,140.96 313.26,141.00 C312.00,141.04 310.13,140.92 309.50,140.90 Z" fill="#dde9fb"/>
<ellipse cx="361.8" cy="142.5" rx="2.1" ry="0.7" fill="#4f86e0"/>
<ellipse cx="358.2" cy="142.1" rx="1.2" ry="1.0" fill="#4f86e0"/>
<ellipse cx="348.1" cy="130.2" rx="0.8" ry="0.7" fill="#86aeec"/>
<ellipse cx="319.4" cy="145.0" rx="2.0" ry="0.8" fill="#6b9ae6"/>
<ellipse cx="332.7" cy="139.7" rx="1.4" ry="1.0" fill="#9dbff0"/>
<ellipse cx="333.3" cy="141.4" rx="1.5" ry="1.1" fill="#4f86e0"/>
<ellipse cx="354.9" cy="134.8" rx="1.6" ry="0.7" fill="#f4f8fe"/>
<ellipse cx="356.5" cy="141.5" rx="1.5" ry="1.1" fill="#9dbff0"/>
<ellipse cx="331.6" cy="138.2" rx="1.7" ry="0.7" fill="#9dbff0"/>
<ellipse cx="347.0" cy="134.6" rx="2.1" ry="1.0" fill="#dbe8fb"/>
<ellipse cx="325.8" cy="132.8" rx="1.3" ry="0.9" fill="#86aeec"/>
<ellipse cx="342.9" cy="146.1" rx="1.2" ry="0.5" fill="#9dbff0"/>
<ellipse cx="321.9" cy="139.4" rx="0.7" ry="1.0" fill="#f4f8fe"/>
<ellipse cx="343.4" cy="138.1" rx="1.4" ry="0.8" fill="#eef4fd"/>
<ellipse cx="366.0" cy="136.0" rx="0.9" ry="0.6" fill="#f4f8fe"/>
<ellipse cx="341.5" cy="139.1" rx="1.5" ry="1.1" fill="#f4f8fe"/>
<ellipse cx="363.3" cy="141.8" rx="0.8" ry="1.0" fill="#eef4fd"/>
<ellipse cx="356.8" cy="140.1" rx="0.8" ry="0.7" fill="#ffffff"/>
<ellipse cx="321.2" cy="143.9" rx="1.1" ry="0.8" fill="#ffffff"/>
<ellipse cx="326.2" cy="129.9" rx="1.1" ry="0.6" fill="#3a72d6"/>
<ellipse cx="340.1" cy="143.8" rx="1.9" ry="0.8" fill="#6b9ae6"/>
<ellipse cx="318.8" cy="130.6" rx="1.5" ry="0.9" fill="#6b9ae6"/>
<ellipse cx="363.1" cy="143.4" rx="1.1" ry="0.7" fill="#ffffff"/>
<ellipse cx="355.3" cy="140.8" rx="1.2" ry="0.6" fill="#dbe8fb"/>
<ellipse cx="347.4" cy="133.1" rx="2.0" ry="0.5" fill="#eef4fd"/>
<ellipse cx="342.3" cy="138.5" rx="1.1" ry="0.4" fill="#4f86e0"/>
<ellipse cx="363.9" cy="146.7" rx="2.2" ry="0.6" fill="#86aeec"/>
<ellipse cx="360.4" cy="130.5" rx="0.8" ry="0.7" fill="#4f86e0"/>
<ellipse cx="319.5" cy="144.2" rx="1.3" ry="0.9" fill="#4f86e0"/>
<ellipse cx="316.3" cy="140.9" rx="2.1" ry="1.1" fill="#9dbff0"/>
<ellipse cx="317.2" cy="131.6" rx="0.7" ry="0.8" fill="#86aeec"/>
<ellipse cx="342.8" cy="146.0" rx="0.8" ry="0.6" fill="#4f86e0"/>
<ellipse cx="330.3" cy="140.3" rx="2.2" ry="1.2" fill="#6b9ae6"/>
<ellipse cx="363.4" cy="144.9" rx="1.6" ry="1.0" fill="#3a72d6"/>
<ellipse cx="367.4" cy="139.9" rx="2.1" ry="0.5" fill="#eef4fd"/>
<ellipse cx="340.6" cy="145.5" rx="0.8" ry="0.6" fill="#3a72d6"/>
<ellipse cx="328.4" cy="145.2" rx="0.7" ry="1.1" fill="#2f66cc"/>
<ellipse cx="344.0" cy="142.1" rx="0.6" ry="0.5" fill="#4f86e0"/>
<ellipse cx="356.1" cy="146.7" rx="1.3" ry="0.7" fill="#86aeec"/>
<ellipse cx="331.0" cy="128.6" rx="1.0" ry="0.9" fill="#86aeec"/>
<ellipse cx="341.0" cy="133.9" rx="2.1" ry="0.7" fill="#f4f8fe"/>
<ellipse cx="322.8" cy="132.4" rx="1.4" ry="1.0" fill="#9dbff0"/>
<ellipse cx="330.2" cy="132.4" rx="1.6" ry="0.9" fill="#ffffff"/>
<ellipse cx="343.7" cy="128.0" rx="1.0" ry="0.6" fill="#ffffff"/>
<ellipse cx="330.0" cy="140.7" rx="1.9" ry="0.8" fill="#3a72d6"/>
<ellipse cx="315.9" cy="142.1" rx="1.3" ry="0.4" fill="#86aeec"/>
<ellipse cx="342.8" cy="130.2" rx="0.7" ry="0.5" fill="#eef4fd"/>
<ellipse cx="358.4" cy="147.3" rx="1.9" ry="1.0" fill="#2f66cc"/>
<ellipse cx="330.5" cy="141.8" rx="2.1" ry="0.8" fill="#2f66cc"/>
<ellipse cx="364.5" cy="130.8" rx="0.7" ry="0.4" fill="#3a72d6"/>
<ellipse cx="320.4" cy="130.2" rx="2.0" ry="1.2" fill="#6b9ae6"/>
<ellipse cx="363.8" cy="135.6" rx="2.1" ry="0.6" fill="#dbe8fb"/>
<ellipse cx="319.1" cy="140.5" rx="1.2" ry="1.0" fill="#9dbff0"/>
<ellipse cx="363.3" cy="132.1" rx="2.2" ry="1.0" fill="#4f86e0"/>
<ellipse cx="349.4" cy="130.6" rx="0.9" ry="0.5" fill="#eef4fd"/>
<ellipse cx="343.3" cy="142.1" rx="2.1" ry="0.5" fill="#ffffff"/>
<ellipse cx="324.0" cy="130.1" rx="2.2" ry="1.1" fill="#ffffff"/>
<ellipse cx="349.5" cy="131.7" rx="1.6" ry="0.5" fill="#eef4fd"/>
<ellipse cx="338.6" cy="144.0" rx="1.2" ry="1.2" fill="#9dbff0"/>
<ellipse cx="338.9" cy="128.5" rx="2.1" ry="1.2" fill="#6b9ae6"/>
<ellipse cx="312.9" cy="142.3" rx="1.5" ry="0.6" fill="#2f66cc"/>
<ellipse cx="357.6" cy="146.5" rx="1.0" ry="1.0" fill="#3a72d6"/>
<ellipse cx="339.5" cy="139.7" rx="0.6" ry="0.6" fill="#dbe8fb"/>
<ellipse cx="313.8" cy="133.8" rx="1.7" ry="0.6" fill="#eef4fd"/>
<ellipse cx="353.2" cy="131.8" rx="2.0" ry="0.9" fill="#6b9ae6"/>
<ellipse cx="337.3" cy="133.8" rx="1.3" ry="0.8" fill="#f4f8fe"/>
<ellipse cx="363.1" cy="143.2" rx="1.0" ry="0.9" fill="#eef4fd"/>
<ellipse cx="320.3" cy="145.0" rx="1.6" ry="0.9" fill="#ffffff"/>
<ellipse cx="317.8" cy="141.7" rx="1.7" ry="0.9" fill="#2f66cc"/>
<ellipse cx="359.0" cy="139.5" rx="0.7" ry="0.8" fill="#3a72d6"/>
<ellipse cx="338.5" cy="139.4" rx="0.7" ry="0.6" fill="#6b9ae6"/>
<ellipse cx="314.3" cy="139.2" rx="1.9" ry="0.6" fill="#2f66cc"/>
<ellipse cx="335.4" cy="137.7" rx="1.4" ry="0.8" fill="#4f86e0"/>
<ellipse cx="327.8" cy="142.8" rx="2.1" ry="0.9" fill="#eef4fd"/>
<ellipse cx="328.3" cy="139.8" rx="1.9" ry="1.0" fill="#dbe8fb"/>
<ellipse cx="321.4" cy="142.7" rx="1.7" ry="0.4" fill="#ffffff"/>
<ellipse cx="356.9" cy="146.4" rx="1.4" ry="0.9" fill="#eef4fd"/>
<ellipse cx="364.2" cy="145.0" rx="0.8" ry="1.2" fill="#6b9ae6"/>
<ellipse cx="360.4" cy="134.9" rx="2.2" ry="0.9" fill="#dbe8fb"/>
<ellipse cx="318.5" cy="141.3" rx="1.3" ry="0.7" fill="#3a72d6"/>
<ellipse cx="333.6" cy="141.0" rx="1.5" ry="1.2" fill="#3a72d6"/>
<ellipse cx="333.1" cy="134.2" rx="1.4" ry="1.2" fill="#3a72d6"/>
<ellipse cx="324.5" cy="139.2" rx="1.1" ry="0.6" fill="#6b9ae6"/>
<ellipse cx="322.0" cy="139.8" rx="2.1" ry="0.6" fill="#ffffff"/>
<ellipse cx="364.9" cy="140.6" rx="1.1" ry="0.6" fill="#9dbff0"/>
<ellipse cx="313.5" cy="143.9" rx="1.4" ry="1.0" fill="#3a72d6"/>
<ellipse cx="325.5" cy="132.0" rx="1.0" ry="0.7" fill="#eef4fd"/>
<ellipse cx="315.4" cy="130.2" rx="1.1" ry="1.1" fill="#eef4fd"/>
<ellipse cx="323.6" cy="144.3" rx="2.1" ry="0.5" fill="#9dbff0"/>
<ellipse cx="334.8" cy="139.0" rx="2.2" ry="0.8" fill="#6b9ae6"/>
<ellipse cx="322.1" cy="141.8" rx="1.6" ry="0.5" fill="#3a72d6"/>
<ellipse cx="365.9" cy="143.7" rx="1.0" ry="1.0" fill="#eef4fd"/>
<ellipse cx="313.8" cy="130.4" rx="1.3" ry="0.5" fill="#3a72d6"/>
<ellipse cx="338.1" cy="145.0" rx="1.5" ry="0.4" fill="#3a72d6"/>
<ellipse cx="337.6" cy="138.9" rx="1.4" ry="1.0" fill="#6b9ae6"/>
<ellipse cx="325.2" cy="142.5" rx="1.7" ry="0.9" fill="#86aeec"/>
<ellipse cx="314.1" cy="141.3" rx="1.0" ry="0.9" fill="#6b9ae6"/>
<ellipse cx="334.1" cy="134.7" rx="1.8" ry="0.9" fill="#2f66cc"/>
<ellipse cx="323.2" cy="133.0" rx="2.2" ry="1.1" fill="#9dbff0"/>
<ellipse cx="363.5" cy="140.9" rx="1.9" ry="1.0" fill="#f4f8fe"/>
<ellipse cx="343.9" cy="141.7" rx="1.0" ry="1.0" fill="#86aeec"/>
<ellipse cx="336.9" cy="133.5" rx="1.6" ry="0.5" fill="#dbe8fb"/>
<path d="M309.50,128.99 C310.13,129.03 312.00,129.26 313.26,129.19 C314.51,129.12 315.76,128.67 317.01,128.56 C318.26,128.45 319.52,128.57 320.77,128.52 C322.02,128.48 323.27,128.43 324.52,128.28 C325.78,128.13 327.03,127.80 328.28,127.64 C329.53,127.47 330.79,127.41 332.04,127.30 C333.29,127.18 334.54,127.00 335.79,126.96 C337.05,126.91 338.30,127.04 339.55,127.03 C340.80,127.02 342.05,126.90 343.31,126.90 C344.56,126.90 345.81,126.85 347.06,127.04 C348.31,127.23 349.57,127.88 350.82,128.01 C352.07,128.14 353.32,127.66 354.58,127.82 C355.83,127.98 357.08,128.82 358.33,128.97 C359.58,129.12 360.84,128.80 362.09,128.72 C363.34,128.64 364.59,128.36 365.84,128.48 C367.10,128.61 368.97,129.32 369.60,129.48" stroke="#2f6ed8" stroke-width="1.8" fill="none"/>
<path d="M309.50,146.92 C310.13,146.90 312.00,146.90 313.26,146.81 C314.51,146.73 315.76,146.44 317.01,146.40 C318.26,146.36 319.52,146.62 320.77,146.58 C322.02,146.54 323.27,146.30 324.52,146.16 C325.78,146.03 327.03,145.84 328.28,145.78 C329.53,145.71 330.79,145.69 332.04,145.80 C333.29,145.91 334.54,146.27 335.79,146.43 C337.05,146.59 338.30,146.53 339.55,146.75 C340.80,146.96 342.05,147.63 343.31,147.73 C344.56,147.83 345.81,147.36 347.06,147.34 C348.31,147.31 349.57,147.45 350.82,147.57 C352.07,147.68 353.32,148.00 354.58,148.04 C355.83,148.08 357.08,147.77 358.33,147.80 C359.58,147.84 360.84,148.25 362.09,148.25 C363.34,148.26 364.59,147.74 365.84,147.82 C367.10,147.90 368.97,148.58 369.60,148.73" stroke="#2f70da" stroke-width="1.8" fill="none"/>
<path d="M309.50,137.65 C310.13,137.60 312.00,137.47 313.26,137.39 C314.51,137.30 315.76,137.19 317.01,137.11 C318.26,137.04 319.52,137.01 320.77,136.95 C322.02,136.89 323.27,136.83 324.52,136.73 C325.78,136.64 327.03,136.47 328.28,136.40 C329.53,136.34 330.79,136.35 332.04,136.36 C333.29,136.36 334.54,136.42 335.79,136.45 C337.05,136.48 338.30,136.60 339.55,136.56 C340.80,136.52 342.05,136.20 343.31,136.21 C344.56,136.23 345.81,136.53 347.06,136.65 C348.31,136.78 349.57,136.82 350.82,136.96 C352.07,137.10 353.32,137.37 354.58,137.50 C355.83,137.62 357.08,137.63 358.33,137.73 C359.58,137.83 360.84,138.08 362.09,138.11 C363.34,138.14 364.59,137.96 365.84,137.93 C367.10,137.89 368.97,137.90 369.60,137.90" stroke="#3f4cb4" stroke-width="2.5" fill="none"/>
<ellipse cx="312.2" cy="137.5" rx="0.9" ry="0.45" fill="#dfe4fa"/>
<ellipse cx="314.0" cy="137.4" rx="0.9" ry="0.45" fill="#dfe4fa"/>
<ellipse cx="317.3" cy="137.1" rx="0.9" ry="0.45" fill="#dfe4fa"/>
<ellipse cx="318.9" cy="137.4" rx="0.9" ry="0.45" fill="#dfe4fa"/>
<ellipse cx="320.9" cy="136.8" rx="0.9" ry="0.45" fill="#dfe4fa"/>
<ellipse cx="322.7" cy="136.6" rx="0.9" ry="0.45" fill="#dfe4fa"/>
<ellipse cx="326.2" cy="136.3" rx="0.9" ry="0.45" fill="#dfe4fa"/>
<ellipse cx="328.5" cy="136.7" rx="0.9" ry="0.45" fill="#dfe4fa"/>
<ellipse cx="329.7" cy="136.3" rx="0.9" ry="0.45" fill="#dfe4fa"/>
<ellipse cx="331.2" cy="135.9" rx="0.9" ry="0.45" fill="#dfe4fa"/>
<ellipse cx="334.4" cy="135.6" rx="0.9" ry="0.45" fill="#dfe4fa"/>
<ellipse cx="337.1" cy="136.5" rx="0.9" ry="0.45" fill="#dfe4fa"/>
<ellipse cx="338.2" cy="136.1" rx="0.9" ry="0.45" fill="#dfe4fa"/>
<ellipse cx="340.6" cy="136.1" rx="0.9" ry="0.45" fill="#dfe4fa"/>
<ellipse cx="343.1" cy="136.4" rx="0.9" ry="0.45" fill="#dfe4fa"/>
<ellipse cx="344.4" cy="136.0" rx="0.9" ry="0.45" fill="#dfe4fa"/>
<ellipse cx="347.5" cy="137.0" rx="0.9" ry="0.45" fill="#dfe4fa"/>
<ellipse cx="349.8" cy="137.1" rx="0.9" ry="0.45" fill="#dfe4fa"/>
<ellipse cx="350.6" cy="137.4" rx="0.9" ry="0.45" fill="#dfe4fa"/>
<ellipse cx="353.3" cy="137.9" rx="0.9" ry="0.45" fill="#dfe4fa"/>
<ellipse cx="355.4" cy="138.0" rx="0.9" ry="0.45" fill="#dfe4fa"/>
<ellipse cx="358.4" cy="137.7" rx="0.9" ry="0.45" fill="#dfe4fa"/>
<ellipse cx="360.0" cy="138.2" rx="0.9" ry="0.45" fill="#dfe4fa"/>
<ellipse cx="363.0" cy="138.1" rx="0.9" ry="0.45" fill="#dfe4fa"/>
<ellipse cx="363.7" cy="137.3" rx="0.9" ry="0.45" fill="#dfe4fa"/>
<ellipse cx="366.5" cy="138.0" rx="0.9" ry="0.45" fill="#dfe4fa"/>
</g></g>
<line x1="358.6" y1="161.1" x2="365.2" y2="161.1" stroke="#333" stroke-width="0.9"/>
<rect x="312.25" y="117.05" width="54.60" height="45.90" fill="none" stroke="#262626" stroke-width="1.5"/>
<rect x="370.5" y="116.3" width="55.70" height="47.40" fill="#fff"/>
<g clip-path="url(#cm4)"><g filter="url(#b03)">
<path d="M368.50,129.54 C369.12,129.49 370.99,129.22 372.23,129.24 C373.47,129.26 374.72,129.53 375.96,129.64 C377.21,129.76 378.45,129.92 379.69,129.92 C380.94,129.93 382.18,129.69 383.43,129.68 C384.67,129.67 385.91,129.69 387.16,129.86 C388.40,130.04 389.64,130.61 390.89,130.75 C392.13,130.90 393.38,130.68 394.62,130.73 C395.86,130.77 397.11,131.07 398.35,131.00 C399.59,130.93 400.84,130.43 402.08,130.31 C403.32,130.18 404.57,130.45 405.81,130.25 C407.06,130.05 408.30,129.36 409.54,129.11 C410.79,128.86 412.03,128.96 413.27,128.76 C414.52,128.56 415.76,128.18 417.01,127.92 C418.25,127.65 419.49,127.44 420.74,127.16 C421.98,126.88 423.23,126.51 424.47,126.24 C425.71,125.96 427.58,125.63 428.20,125.50 L428.20,153.19 C427.58,153.15 425.71,152.96 424.47,152.93 C423.23,152.91 421.98,153.08 420.74,153.04 C419.49,153.01 418.25,152.86 417.01,152.72 C415.76,152.59 414.52,152.35 413.27,152.22 C412.03,152.09 410.79,151.88 409.54,151.94 C408.30,152.01 407.06,152.58 405.81,152.60 C404.57,152.62 403.32,152.30 402.08,152.07 C400.84,151.84 399.59,151.37 398.35,151.21 C397.11,151.05 395.86,151.21 394.62,151.12 C393.38,151.03 392.13,150.82 390.89,150.67 C389.64,150.52 388.40,150.29 387.16,150.22 C385.91,150.15 384.67,150.32 383.43,150.26 C382.18,150.20 380.94,150.07 379.69,149.86 C378.45,149.65 377.21,149.21 375.96,149.00 C374.72,148.78 373.47,148.65 372.23,148.55 C370.99,148.46 369.12,148.45 368.50,148.42 Z" fill="#d3e4f9"/>
<path d="M368.50,137.90 C369.12,137.94 370.99,137.97 372.23,138.13 C373.47,138.28 374.72,138.64 375.96,138.81 C377.21,138.99 378.45,139.08 379.69,139.18 C380.94,139.28 382.18,139.34 383.43,139.42 C384.67,139.50 385.91,139.64 387.16,139.65 C388.40,139.67 389.64,139.38 390.89,139.53 C392.13,139.68 393.38,140.38 394.62,140.56 C395.86,140.74 397.11,140.70 398.35,140.61 C399.59,140.52 400.84,140.12 402.08,140.02 C403.32,139.92 404.57,140.07 405.81,140.02 C407.06,139.96 408.30,139.78 409.54,139.68 C410.79,139.59 412.03,139.54 413.27,139.45 C414.52,139.35 415.76,139.26 417.01,139.10 C418.25,138.94 419.49,138.61 420.74,138.49 C421.98,138.37 423.23,138.41 424.47,138.37 C425.71,138.32 427.58,138.25 428.20,138.22 L428.20,149.04 C427.58,149.05 425.71,149.22 424.47,149.15 C423.23,149.08 421.98,148.69 420.74,148.61 C419.49,148.53 418.25,148.58 417.01,148.65 C415.76,148.72 414.52,148.93 413.27,149.01 C412.03,149.10 410.79,149.21 409.54,149.19 C408.30,149.16 407.06,148.91 405.81,148.85 C404.57,148.79 403.32,148.88 402.08,148.82 C400.84,148.76 399.59,148.52 398.35,148.48 C397.11,148.44 395.86,148.68 394.62,148.59 C393.38,148.50 392.13,148.05 390.89,147.94 C389.64,147.82 388.40,148.03 387.16,147.90 C385.91,147.77 384.67,147.40 383.43,147.15 C382.18,146.90 380.94,146.53 379.69,146.38 C378.45,146.24 377.21,146.36 375.96,146.30 C374.72,146.23 373.47,146.09 372.23,146.00 C370.99,145.92 369.12,145.81 368.50,145.78 Z" fill="#f2f7fe"/>
<ellipse cx="412.0" cy="146.5" rx="1.6" ry="1.1" fill="#6b9ae6"/>
<ellipse cx="374.0" cy="132.3" rx="1.6" ry="0.8" fill="#3a72d6"/>
<ellipse cx="372.9" cy="133.2" rx="1.0" ry="0.4" fill="#eef4fd"/>
<ellipse cx="384.4" cy="131.0" rx="0.6" ry="0.6" fill="#ffffff"/>
<ellipse cx="376.8" cy="145.8" rx="1.7" ry="0.8" fill="#6b9ae6"/>
<ellipse cx="398.6" cy="140.8" rx="1.6" ry="0.4" fill="#ffffff"/>
<ellipse cx="395.9" cy="141.8" rx="1.7" ry="1.0" fill="#eef4fd"/>
<ellipse cx="412.0" cy="139.7" rx="0.7" ry="0.6" fill="#f4f8fe"/>
<ellipse cx="424.6" cy="140.6" rx="1.5" ry="0.5" fill="#ffffff"/>
<ellipse cx="418.8" cy="147.0" rx="2.0" ry="0.9" fill="#4f86e0"/>
<ellipse cx="400.9" cy="132.7" rx="1.7" ry="0.6" fill="#ffffff"/>
<ellipse cx="395.4" cy="142.1" rx="1.6" ry="0.4" fill="#eef4fd"/>
<ellipse cx="410.7" cy="149.9" rx="1.1" ry="1.2" fill="#eef4fd"/>
<ellipse cx="401.6" cy="133.5" rx="1.8" ry="0.4" fill="#ffffff"/>
<ellipse cx="372.4" cy="144.4" rx="2.0" ry="0.9" fill="#f4f8fe"/>
<ellipse cx="425.3" cy="147.0" rx="2.1" ry="0.4" fill="#ffffff"/>
<ellipse cx="410.3" cy="134.2" rx="0.7" ry="0.9" fill="#9dbff0"/>
<ellipse cx="385.6" cy="134.7" rx="1.7" ry="0.7" fill="#ffffff"/>
<ellipse cx="422.6" cy="143.7" rx="2.1" ry="0.7" fill="#6b9ae6"/>
<ellipse cx="370.9" cy="137.6" rx="0.7" ry="0.4" fill="#eef4fd"/>
<ellipse cx="388.9" cy="134.1" rx="1.4" ry="1.0" fill="#ffffff"/>
<ellipse cx="402.0" cy="136.1" rx="0.7" ry="0.8" fill="#86aeec"/>
<ellipse cx="424.0" cy="130.6" rx="2.0" ry="0.9" fill="#2f66cc"/>
<ellipse cx="412.0" cy="146.4" rx="0.9" ry="0.4" fill="#dbe8fb"/>
<ellipse cx="372.1" cy="145.8" rx="1.6" ry="1.1" fill="#dbe8fb"/>
<ellipse cx="372.6" cy="132.5" rx="0.8" ry="0.6" fill="#eef4fd"/>
<ellipse cx="406.2" cy="134.3" rx="1.9" ry="0.7" fill="#6b9ae6"/>
<ellipse cx="391.6" cy="145.6" rx="2.2" ry="0.4" fill="#ffffff"/>
<ellipse cx="415.4" cy="150.1" rx="1.5" ry="0.7" fill="#2f66cc"/>
<ellipse cx="400.7" cy="149.8" rx="2.1" ry="0.5" fill="#eef4fd"/>
<ellipse cx="426.0" cy="129.5" rx="2.0" ry="0.7" fill="#6b9ae6"/>
<ellipse cx="384.5" cy="141.3" rx="1.2" ry="0.9" fill="#4f86e0"/>
<ellipse cx="423.9" cy="149.3" rx="1.9" ry="0.9" fill="#ffffff"/>
<ellipse cx="424.0" cy="131.0" rx="0.7" ry="1.0" fill="#2f66cc"/>
<ellipse cx="407.0" cy="139.7" rx="0.9" ry="0.8" fill="#eef4fd"/>
<ellipse cx="418.2" cy="151.3" rx="1.5" ry="0.6" fill="#ffffff"/>
<ellipse cx="391.7" cy="143.0" rx="1.4" ry="0.8" fill="#dbe8fb"/>
<ellipse cx="372.0" cy="138.0" rx="0.9" ry="0.8" fill="#86aeec"/>
<ellipse cx="396.9" cy="144.6" rx="1.8" ry="1.0" fill="#dbe8fb"/>
<ellipse cx="400.5" cy="143.6" rx="1.3" ry="0.5" fill="#6b9ae6"/>
<ellipse cx="411.2" cy="142.3" rx="2.1" ry="0.5" fill="#ffffff"/>
<ellipse cx="384.7" cy="139.4" rx="1.4" ry="0.5" fill="#ffffff"/>
<ellipse cx="403.2" cy="148.2" rx="2.1" ry="0.7" fill="#dbe8fb"/>
<ellipse cx="394.2" cy="143.8" rx="1.1" ry="1.0" fill="#dbe8fb"/>
<ellipse cx="405.7" cy="140.5" rx="1.4" ry="1.1" fill="#3a72d6"/>
<ellipse cx="390.9" cy="133.3" rx="1.9" ry="0.7" fill="#eef4fd"/>
<ellipse cx="421.8" cy="139.4" rx="0.7" ry="0.5" fill="#2f66cc"/>
<ellipse cx="409.6" cy="141.6" rx="1.6" ry="1.0" fill="#ffffff"/>
<ellipse cx="391.0" cy="148.2" rx="0.6" ry="0.5" fill="#86aeec"/>
<ellipse cx="378.4" cy="133.7" rx="1.8" ry="0.5" fill="#4f86e0"/>
<ellipse cx="408.1" cy="135.1" rx="1.1" ry="0.4" fill="#ffffff"/>
<ellipse cx="409.8" cy="139.3" rx="2.2" ry="0.7" fill="#ffffff"/>
<ellipse cx="392.9" cy="149.0" rx="2.1" ry="0.5" fill="#86aeec"/>
<ellipse cx="393.8" cy="146.3" rx="1.6" ry="0.7" fill="#6b9ae6"/>
<ellipse cx="410.8" cy="149.5" rx="1.0" ry="1.1" fill="#3a72d6"/>
<ellipse cx="399.2" cy="142.3" rx="1.6" ry="0.6" fill="#eef4fd"/>
<ellipse cx="384.0" cy="143.4" rx="1.0" ry="0.6" fill="#ffffff"/>
<ellipse cx="394.0" cy="147.7" rx="1.0" ry="0.9" fill="#f4f8fe"/>
<ellipse cx="384.3" cy="132.6" rx="1.6" ry="0.7" fill="#2f66cc"/>
<ellipse cx="390.1" cy="147.4" rx="1.0" ry="0.7" fill="#ffffff"/>
<ellipse cx="376.1" cy="144.9" rx="2.2" ry="0.8" fill="#f4f8fe"/>
<ellipse cx="405.6" cy="141.8" rx="2.1" ry="1.0" fill="#6b9ae6"/>
<ellipse cx="422.4" cy="147.1" rx="1.4" ry="0.4" fill="#dbe8fb"/>
<ellipse cx="393.9" cy="133.4" rx="1.6" ry="0.7" fill="#eef4fd"/>
<ellipse cx="372.4" cy="137.9" rx="1.2" ry="1.1" fill="#ffffff"/>
<ellipse cx="418.9" cy="141.8" rx="1.5" ry="0.5" fill="#f4f8fe"/>
<ellipse cx="375.7" cy="137.9" rx="1.5" ry="1.1" fill="#eef4fd"/>
<ellipse cx="423.8" cy="145.9" rx="1.7" ry="0.5" fill="#3a72d6"/>
<ellipse cx="400.0" cy="139.7" rx="1.8" ry="1.1" fill="#ffffff"/>
<ellipse cx="424.1" cy="146.4" rx="1.6" ry="0.9" fill="#dbe8fb"/>
<ellipse cx="393.8" cy="141.0" rx="1.6" ry="0.9" fill="#dbe8fb"/>
<ellipse cx="412.8" cy="133.7" rx="0.9" ry="0.8" fill="#eef4fd"/>
<ellipse cx="384.8" cy="143.5" rx="0.6" ry="1.2" fill="#6b9ae6"/>
<ellipse cx="379.3" cy="145.7" rx="0.9" ry="0.5" fill="#eef4fd"/>
<ellipse cx="379.7" cy="135.0" rx="1.4" ry="0.5" fill="#4f86e0"/>
<ellipse cx="406.6" cy="145.6" rx="1.8" ry="1.0" fill="#6b9ae6"/>
<ellipse cx="398.7" cy="150.0" rx="1.7" ry="0.5" fill="#eef4fd"/>
<ellipse cx="399.8" cy="142.6" rx="1.7" ry="0.6" fill="#3a72d6"/>
<ellipse cx="390.0" cy="133.0" rx="1.1" ry="0.5" fill="#86aeec"/>
<ellipse cx="403.4" cy="148.0" rx="0.6" ry="1.0" fill="#dbe8fb"/>
<ellipse cx="383.4" cy="144.3" rx="1.8" ry="0.6" fill="#ffffff"/>
<ellipse cx="396.8" cy="146.9" rx="1.6" ry="1.2" fill="#dbe8fb"/>
<ellipse cx="422.7" cy="131.8" rx="0.8" ry="0.6" fill="#ffffff"/>
<ellipse cx="395.1" cy="147.6" rx="1.4" ry="0.4" fill="#eef4fd"/>
<ellipse cx="393.8" cy="149.5" rx="1.2" ry="0.9" fill="#ffffff"/>
<ellipse cx="394.9" cy="141.3" rx="1.2" ry="0.9" fill="#dbe8fb"/>
<ellipse cx="386.7" cy="131.4" rx="1.4" ry="0.7" fill="#3a72d6"/>
<ellipse cx="385.5" cy="132.0" rx="0.9" ry="0.6" fill="#ffffff"/>
<ellipse cx="415.3" cy="142.5" rx="0.6" ry="0.5" fill="#f4f8fe"/>
<ellipse cx="414.2" cy="141.8" rx="1.4" ry="1.0" fill="#eef4fd"/>
<ellipse cx="417.0" cy="149.2" rx="1.3" ry="0.8" fill="#6b9ae6"/>
<ellipse cx="402.8" cy="141.7" rx="1.5" ry="0.8" fill="#3a72d6"/>
<ellipse cx="420.0" cy="142.3" rx="0.9" ry="0.9" fill="#6b9ae6"/>
<ellipse cx="378.5" cy="144.3" rx="1.3" ry="0.7" fill="#eef4fd"/>
<ellipse cx="409.1" cy="146.8" rx="1.5" ry="1.0" fill="#ffffff"/>
<ellipse cx="374.8" cy="138.4" rx="0.8" ry="1.1" fill="#86aeec"/>
<ellipse cx="422.6" cy="130.8" rx="0.9" ry="0.7" fill="#ffffff"/>
<ellipse cx="399.2" cy="141.8" rx="2.1" ry="1.1" fill="#6b9ae6"/>
<ellipse cx="416.7" cy="134.1" rx="1.6" ry="0.7" fill="#eef4fd"/>
<ellipse cx="371.6" cy="132.0" rx="2.1" ry="1.2" fill="#86aeec"/>
<ellipse cx="407.2" cy="132.8" rx="2.0" ry="0.6" fill="#4f86e0"/>
<ellipse cx="376.2" cy="147.9" rx="1.8" ry="0.8" fill="#eef4fd"/>
<ellipse cx="385.6" cy="140.8" rx="2.2" ry="0.6" fill="#dbe8fb"/>
<ellipse cx="383.1" cy="148.6" rx="1.9" ry="1.1" fill="#3a72d6"/>
<ellipse cx="416.2" cy="141.8" rx="1.8" ry="0.4" fill="#4f86e0"/>
<ellipse cx="392.4" cy="141.3" rx="0.9" ry="0.7" fill="#eef4fd"/>
<ellipse cx="394.7" cy="133.0" rx="1.2" ry="1.0" fill="#4f86e0"/>
<ellipse cx="393.1" cy="149.4" rx="1.7" ry="0.8" fill="#6b9ae6"/>
<ellipse cx="376.6" cy="130.7" rx="1.9" ry="0.5" fill="#2f66cc"/>
<ellipse cx="424.4" cy="147.4" rx="1.8" ry="0.9" fill="#f4f8fe"/>
<ellipse cx="374.5" cy="142.3" rx="1.7" ry="0.9" fill="#ffffff"/>
<ellipse cx="415.5" cy="150.7" rx="0.6" ry="0.9" fill="#9dbff0"/>
<ellipse cx="406.1" cy="148.5" rx="1.6" ry="1.2" fill="#dbe8fb"/>
<ellipse cx="403.6" cy="148.2" rx="1.2" ry="0.4" fill="#86aeec"/>
<ellipse cx="425.8" cy="136.9" rx="1.5" ry="1.0" fill="#ffffff"/>
<ellipse cx="411.9" cy="131.9" rx="0.7" ry="0.9" fill="#2f66cc"/>
<ellipse cx="408.6" cy="142.6" rx="2.0" ry="0.6" fill="#6b9ae6"/>
<ellipse cx="397.7" cy="141.9" rx="1.2" ry="0.6" fill="#6b9ae6"/>
<ellipse cx="415.9" cy="146.4" rx="0.7" ry="0.5" fill="#6b9ae6"/>
<ellipse cx="412.2" cy="148.1" rx="1.6" ry="0.5" fill="#6b9ae6"/>
<ellipse cx="424.4" cy="139.8" rx="1.8" ry="0.4" fill="#ffffff"/>
<ellipse cx="375.8" cy="133.7" rx="1.1" ry="0.9" fill="#9dbff0"/>
<ellipse cx="420.9" cy="151.5" rx="1.2" ry="0.9" fill="#ffffff"/>
<ellipse cx="415.6" cy="140.0" rx="0.8" ry="1.1" fill="#ffffff"/>
<ellipse cx="413.4" cy="145.7" rx="0.7" ry="0.8" fill="#dbe8fb"/>
<ellipse cx="422.0" cy="144.0" rx="1.1" ry="1.0" fill="#6b9ae6"/>
<ellipse cx="402.7" cy="139.5" rx="1.7" ry="0.6" fill="#ffffff"/>
<ellipse cx="375.3" cy="137.6" rx="0.8" ry="0.5" fill="#ffffff"/>
<ellipse cx="425.8" cy="146.3" rx="1.7" ry="0.7" fill="#ffffff"/>
<ellipse cx="392.2" cy="150.4" rx="0.6" ry="1.1" fill="#ffffff"/>
<ellipse cx="379.4" cy="141.3" rx="1.1" ry="1.1" fill="#2f66cc"/>
<ellipse cx="400.2" cy="133.7" rx="1.6" ry="0.8" fill="#3a72d6"/>
<ellipse cx="384.1" cy="133.3" rx="1.9" ry="1.0" fill="#eef4fd"/>
<ellipse cx="384.1" cy="133.8" rx="2.1" ry="0.8" fill="#9dbff0"/>
<ellipse cx="421.2" cy="129.6" rx="0.6" ry="1.1" fill="#ffffff"/>
<path d="M368.50,129.54 C369.12,129.49 370.99,129.22 372.23,129.24 C373.47,129.26 374.72,129.53 375.96,129.64 C377.21,129.76 378.45,129.92 379.69,129.92 C380.94,129.93 382.18,129.69 383.43,129.68 C384.67,129.67 385.91,129.69 387.16,129.86 C388.40,130.04 389.64,130.61 390.89,130.75 C392.13,130.90 393.38,130.68 394.62,130.73 C395.86,130.77 397.11,131.07 398.35,131.00 C399.59,130.93 400.84,130.43 402.08,130.31 C403.32,130.18 404.57,130.45 405.81,130.25 C407.06,130.05 408.30,129.36 409.54,129.11 C410.79,128.86 412.03,128.96 413.27,128.76 C414.52,128.56 415.76,128.18 417.01,127.92 C418.25,127.65 419.49,127.44 420.74,127.16 C421.98,126.88 423.23,126.51 424.47,126.24 C425.71,125.96 427.58,125.63 428.20,125.50" stroke="#2f6ed8" stroke-width="1.8" fill="none"/>
<path d="M368.50,148.42 C369.12,148.45 370.99,148.46 372.23,148.55 C373.47,148.65 374.72,148.78 375.96,149.00 C377.21,149.21 378.45,149.65 379.69,149.86 C380.94,150.07 382.18,150.20 383.43,150.26 C384.67,150.32 385.91,150.15 387.16,150.22 C388.40,150.29 389.64,150.52 390.89,150.67 C392.13,150.82 393.38,151.03 394.62,151.12 C395.86,151.21 397.11,151.05 398.35,151.21 C399.59,151.37 400.84,151.84 402.08,152.07 C403.32,152.30 404.57,152.62 405.81,152.60 C407.06,152.58 408.30,152.01 409.54,151.94 C410.79,151.88 412.03,152.09 413.27,152.22 C414.52,152.35 415.76,152.59 417.01,152.72 C418.25,152.86 419.49,153.01 420.74,153.04 C421.98,153.08 423.23,152.91 424.47,152.93 C425.71,152.96 427.58,153.15 428.20,153.19" stroke="#2f70da" stroke-width="2.6" fill="none"/>
<path d="M368.50,135.99 C369.12,136.03 370.99,136.21 372.23,136.21 C373.47,136.20 374.72,135.88 375.96,135.97 C377.21,136.06 378.45,136.66 379.69,136.76 C380.94,136.86 382.18,136.50 383.43,136.58 C384.67,136.67 385.91,137.15 387.16,137.27 C388.40,137.39 389.64,137.22 390.89,137.29 C392.13,137.36 393.38,137.61 394.62,137.69 C395.86,137.78 397.11,137.84 398.35,137.79 C399.59,137.75 400.84,137.52 402.08,137.41 C403.32,137.30 404.57,137.15 405.81,137.11 C407.06,137.08 408.30,137.28 409.54,137.18 C410.79,137.08 412.03,136.74 413.27,136.51 C414.52,136.29 415.76,135.98 417.01,135.83 C418.25,135.68 419.49,135.70 420.74,135.61 C421.98,135.52 423.23,135.46 424.47,135.27 C425.71,135.08 427.58,134.60 428.20,134.47" stroke="#3f4cb4" stroke-width="2.5" fill="none"/>
<ellipse cx="371.6" cy="135.8" rx="0.9" ry="0.45" fill="#dfe4fa"/>
<ellipse cx="373.3" cy="136.0" rx="0.9" ry="0.45" fill="#dfe4fa"/>
<ellipse cx="375.2" cy="136.2" rx="0.9" ry="0.45" fill="#dfe4fa"/>
<ellipse cx="378.8" cy="136.0" rx="0.9" ry="0.45" fill="#dfe4fa"/>
<ellipse cx="380.7" cy="136.2" rx="0.9" ry="0.45" fill="#dfe4fa"/>
<ellipse cx="383.1" cy="136.7" rx="0.9" ry="0.45" fill="#dfe4fa"/>
<ellipse cx="384.2" cy="137.2" rx="0.9" ry="0.45" fill="#dfe4fa"/>
<ellipse cx="386.6" cy="136.5" rx="0.9" ry="0.45" fill="#dfe4fa"/>
<ellipse cx="388.9" cy="137.2" rx="0.9" ry="0.45" fill="#dfe4fa"/>
<ellipse cx="391.2" cy="138.1" rx="0.9" ry="0.45" fill="#dfe4fa"/>
<ellipse cx="392.5" cy="137.1" rx="0.9" ry="0.45" fill="#dfe4fa"/>
<ellipse cx="395.1" cy="137.9" rx="0.9" ry="0.45" fill="#dfe4fa"/>
<ellipse cx="398.1" cy="137.6" rx="0.9" ry="0.45" fill="#dfe4fa"/>
<ellipse cx="399.4" cy="137.7" rx="0.9" ry="0.45" fill="#dfe4fa"/>
<ellipse cx="402.2" cy="138.0" rx="0.9" ry="0.45" fill="#dfe4fa"/>
<ellipse cx="403.6" cy="138.1" rx="0.9" ry="0.45" fill="#dfe4fa"/>
<ellipse cx="405.0" cy="137.2" rx="0.9" ry="0.45" fill="#dfe4fa"/>
<ellipse cx="407.2" cy="137.0" rx="0.9" ry="0.45" fill="#dfe4fa"/>
<ellipse cx="410.8" cy="137.5" rx="0.9" ry="0.45" fill="#dfe4fa"/>
<ellipse cx="412.4" cy="136.8" rx="0.9" ry="0.45" fill="#dfe4fa"/>
<ellipse cx="414.3" cy="136.3" rx="0.9" ry="0.45" fill="#dfe4fa"/>
<ellipse cx="416.6" cy="136.3" rx="0.9" ry="0.45" fill="#dfe4fa"/>
<ellipse cx="418.1" cy="136.4" rx="0.9" ry="0.45" fill="#dfe4fa"/>
<ellipse cx="421.1" cy="136.0" rx="0.9" ry="0.45" fill="#dfe4fa"/>
<ellipse cx="422.5" cy="135.3" rx="0.9" ry="0.45" fill="#dfe4fa"/>
<ellipse cx="425.5" cy="135.3" rx="0.9" ry="0.45" fill="#dfe4fa"/>
</g></g>
<line x1="417.2" y1="161.1" x2="423.8" y2="161.1" stroke="#333" stroke-width="0.9"/>
<rect x="371.25" y="117.05" width="54.20" height="45.90" fill="none" stroke="#262626" stroke-width="1.5"/>
<line x1="465.80" y1="68.80" x2="465.80" y2="162.20" stroke="#111" stroke-width="1.35" />
<line x1="463.20" y1="161.60" x2="547.80" y2="161.60" stroke="#111" stroke-width="1.35" />
<line x1="463.20" y1="69.40" x2="465.80" y2="69.40" stroke="#111" stroke-width="1.2" />
<text x="461.30" y="73.00" font-size="8.4" text-anchor="end" fill="#111" >50</text>
<line x1="463.20" y1="87.80" x2="465.80" y2="87.80" stroke="#111" stroke-width="1.2" />
<text x="461.30" y="91.40" font-size="8.4" text-anchor="end" fill="#111" >40</text>
<line x1="463.20" y1="106.20" x2="465.80" y2="106.20" stroke="#111" stroke-width="1.2" />
<text x="461.30" y="109.80" font-size="8.4" text-anchor="end" fill="#111" >30</text>
<line x1="463.20" y1="124.80" x2="465.80" y2="124.80" stroke="#111" stroke-width="1.2" />
<text x="461.30" y="128.40" font-size="8.4" text-anchor="end" fill="#111" >20</text>
<line x1="463.20" y1="143.20" x2="465.80" y2="143.20" stroke="#111" stroke-width="1.2" />
<text x="461.30" y="146.80" font-size="8.4" text-anchor="end" fill="#111" >10</text>
<line x1="463.20" y1="161.60" x2="465.80" y2="161.60" stroke="#111" stroke-width="1.2" />
<text x="461.30" y="165.20" font-size="8.4" text-anchor="end" fill="#111" >0</text>
<line x1="475.80" y1="161.60" x2="475.80" y2="163.60" stroke="#111" stroke-width="0.9" />
<line x1="475.80" y1="129.60" x2="475.80" y2="131.80" stroke="#111" stroke-width="1.2" />
<line x1="472.80" y1="129.60" x2="478.80" y2="129.60" stroke="#111" stroke-width="1.3" />
<rect x="469.30" y="132.30" width="13.00" height="29.30" fill="#FF9494" stroke="#111" stroke-width="1.2"/>
<line x1="496.55" y1="161.60" x2="496.55" y2="163.60" stroke="#111" stroke-width="0.9" />
<line x1="496.55" y1="89.90" x2="496.55" y2="94.90" stroke="#111" stroke-width="1.2" />
<line x1="493.55" y1="89.90" x2="499.55" y2="89.90" stroke="#111" stroke-width="1.3" />
<rect x="490.50" y="95.40" width="12.10" height="66.20" fill="#FF9494" stroke="#111" stroke-width="1.2"/>
<line x1="516.50" y1="161.60" x2="516.50" y2="163.60" stroke="#111" stroke-width="0.9" />
<line x1="516.50" y1="126.80" x2="516.50" y2="130.30" stroke="#111" stroke-width="1.2" />
<line x1="513.50" y1="126.80" x2="519.50" y2="126.80" stroke="#111" stroke-width="1.3" />
<rect x="510.10" y="130.80" width="12.80" height="30.80" fill="#A0C6EE" stroke="#111" stroke-width="1.2"/>
<line x1="536.40" y1="161.60" x2="536.40" y2="163.60" stroke="#111" stroke-width="0.9" />
<line x1="536.40" y1="110.00" x2="536.40" y2="113.80" stroke="#111" stroke-width="1.2" />
<line x1="533.40" y1="110.00" x2="539.40" y2="110.00" stroke="#111" stroke-width="1.3" />
<rect x="529.80" y="114.30" width="13.20" height="47.30" fill="#A0C6EE" stroke="#111" stroke-width="1.2"/>
<line x1="488.90" y1="72.30" x2="543.50" y2="72.30" stroke="#111" stroke-width="1.3" />
<polygon points="509.65,65.60 510.30,67.01 511.84,67.19 510.70,68.24 511.00,69.76 509.65,69.00 508.30,69.76 508.60,68.24 507.46,67.19 509.00,67.01" fill="#444" stroke="#444" stroke-width="0.3"/>
<polygon points="513.95,65.60 514.60,67.01 516.14,67.19 515.00,68.24 515.30,69.76 513.95,69.00 512.60,69.76 512.90,68.24 511.76,67.19 513.30,67.01" fill="#444" stroke="#444" stroke-width="0.3"/>
<polygon points="518.25,65.60 518.90,67.01 520.44,67.19 519.30,68.24 519.60,69.76 518.25,69.00 516.90,69.76 517.20,68.24 516.06,67.19 517.60,67.01" fill="#444" stroke="#444" stroke-width="0.3"/>
<polygon points="522.55,65.60 523.20,67.01 524.74,67.19 523.60,68.24 523.90,69.76 522.55,69.00 521.20,69.76 521.50,68.24 520.36,67.19 521.90,67.01" fill="#444" stroke="#444" stroke-width="0.3"/>
<line x1="473.50" y1="171.70" x2="478.10" y2="171.70" stroke="#444" stroke-width="0.9" />
<line x1="494.25" y1="171.70" x2="498.85" y2="171.70" stroke="#444" stroke-width="0.9" />
<line x1="496.55" y1="169.40" x2="496.55" y2="174.00" stroke="#444" stroke-width="0.9" />
<line x1="514.20" y1="171.70" x2="518.80" y2="171.70" stroke="#444" stroke-width="0.9" />
<line x1="534.10" y1="171.70" x2="538.70" y2="171.70" stroke="#444" stroke-width="0.9" />
<line x1="536.40" y1="169.40" x2="536.40" y2="174.00" stroke="#444" stroke-width="0.9" />
<text x="442.60" y="174.20" font-size="8.3" text-anchor="middle" fill="#111" >DNP-HSA</text>
<text transform="translate(444.40,116.60) rotate(-90)" x="0" y="0" font-size="8.3" text-anchor="middle" textLength="62.0" lengthAdjust="spacingAndGlyphs" fill="#111">Mast cells / site</text>
<line x1="53.60" y1="242.90" x2="53.60" y2="332.00" stroke="#111" stroke-width="1.35" />
<line x1="51.00" y1="331.40" x2="219.80" y2="331.40" stroke="#111" stroke-width="1.35" />
<line x1="51.00" y1="243.50" x2="53.60" y2="243.50" stroke="#111" stroke-width="1.1" />
<text x="49.20" y="248.10" font-size="8.4" text-anchor="end" fill="#111" >39</text>
<line x1="51.00" y1="261.05" x2="53.60" y2="261.05" stroke="#111" stroke-width="1.1" />
<text x="49.20" y="265.65" font-size="8.4" text-anchor="end" fill="#111" >37</text>
<line x1="51.00" y1="278.60" x2="53.60" y2="278.60" stroke="#111" stroke-width="1.1" />
<text x="49.20" y="283.20" font-size="8.4" text-anchor="end" fill="#111" >35</text>
<line x1="51.00" y1="296.15" x2="53.60" y2="296.15" stroke="#111" stroke-width="1.1" />
<text x="49.20" y="300.75" font-size="8.4" text-anchor="end" fill="#111" >33</text>
<line x1="51.00" y1="313.70" x2="53.60" y2="313.70" stroke="#111" stroke-width="1.1" />
<text x="49.20" y="318.30" font-size="8.4" text-anchor="end" fill="#111" >31</text>
<line x1="51.00" y1="331.25" x2="53.60" y2="331.25" stroke="#111" stroke-width="1.1" />
<text x="49.20" y="335.85" font-size="8.4" text-anchor="end" fill="#111" >29</text>
<line x1="60.50" y1="331.40" x2="60.50" y2="333.60" stroke="#111" stroke-width="1.0" />
<text x="60.50" y="343.80" font-size="8.4" text-anchor="middle" fill="#111" >0</text>
<line x1="78.12" y1="331.40" x2="78.12" y2="333.60" stroke="#111" stroke-width="1.0" />
<text x="78.12" y="343.80" font-size="8.4" text-anchor="middle" fill="#111" >10</text>
<line x1="95.74" y1="331.40" x2="95.74" y2="333.60" stroke="#111" stroke-width="1.0" />
<text x="95.74" y="343.80" font-size="8.4" text-anchor="middle" fill="#111" >20</text>
<line x1="113.36" y1="331.40" x2="113.36" y2="333.60" stroke="#111" stroke-width="1.0" />
<text x="113.36" y="343.80" font-size="8.4" text-anchor="middle" fill="#111" >30</text>
<line x1="130.98" y1="331.40" x2="130.98" y2="333.60" stroke="#111" stroke-width="1.0" />
<text x="130.98" y="343.80" font-size="8.4" text-anchor="middle" fill="#111" >40</text>
<line x1="148.60" y1="331.40" x2="148.60" y2="333.60" stroke="#111" stroke-width="1.0" />
<text x="148.60" y="343.80" font-size="8.4" text-anchor="middle" fill="#111" >50</text>
<line x1="166.22" y1="331.40" x2="166.22" y2="333.60" stroke="#111" stroke-width="1.0" />
<text x="166.22" y="343.80" font-size="8.4" text-anchor="middle" fill="#111" >60</text>
<line x1="183.84" y1="331.40" x2="183.84" y2="333.60" stroke="#111" stroke-width="1.0" />
<text x="183.84" y="343.80" font-size="8.4" text-anchor="middle" fill="#111" >70</text>
<line x1="201.46" y1="331.40" x2="201.46" y2="333.60" stroke="#111" stroke-width="1.0" />
<text x="201.46" y="343.80" font-size="8.4" text-anchor="middle" fill="#111" >80</text>
<line x1="219.08" y1="331.40" x2="219.08" y2="333.60" stroke="#111" stroke-width="1.0" />
<text x="219.08" y="343.80" font-size="8.4" text-anchor="middle" fill="#111" >90</text>
<text x="139.10" y="354.70" font-size="8.3" text-anchor="middle" textLength="39.6" lengthAdjust="spacingAndGlyphs" fill="#111" >Time (min)</text>
<text transform="translate(30.60,286.50) rotate(-90)" x="0" y="0" font-size="9.0" text-anchor="middle" textLength="98.4" lengthAdjust="spacingAndGlyphs" fill="#111">Rectal temperature (&#8202;°C)</text>
<line x1="95.74" y1="281.50" x2="95.74" y2="283.50" stroke="#F28B8B" stroke-width="1.1" />
<line x1="93.24" y1="281.50" x2="98.24" y2="281.50" stroke="#F28B8B" stroke-width="1.1" />
<line x1="93.24" y1="283.50" x2="98.24" y2="283.50" stroke="#F28B8B" stroke-width="1.1" />
<line x1="113.36" y1="291.10" x2="113.36" y2="294.10" stroke="#F28B8B" stroke-width="1.1" />
<line x1="110.86" y1="291.10" x2="115.86" y2="291.10" stroke="#F28B8B" stroke-width="1.1" />
<line x1="110.86" y1="294.10" x2="115.86" y2="294.10" stroke="#F28B8B" stroke-width="1.1" />
<line x1="130.98" y1="301.60" x2="130.98" y2="310.80" stroke="#F28B8B" stroke-width="1.1" />
<line x1="128.48" y1="301.60" x2="133.48" y2="301.60" stroke="#F28B8B" stroke-width="1.1" />
<line x1="128.48" y1="310.80" x2="133.48" y2="310.80" stroke="#F28B8B" stroke-width="1.1" />
<line x1="148.60" y1="300.60" x2="148.60" y2="309.60" stroke="#F28B8B" stroke-width="1.1" />
<line x1="146.10" y1="300.60" x2="151.10" y2="300.60" stroke="#F28B8B" stroke-width="1.1" />
<line x1="146.10" y1="309.60" x2="151.10" y2="309.60" stroke="#F28B8B" stroke-width="1.1" />
<line x1="166.22" y1="300.80" x2="166.22" y2="304.80" stroke="#F28B8B" stroke-width="1.1" />
<line x1="163.72" y1="300.80" x2="168.72" y2="300.80" stroke="#F28B8B" stroke-width="1.1" />
<line x1="163.72" y1="304.80" x2="168.72" y2="304.80" stroke="#F28B8B" stroke-width="1.1" />
<line x1="183.84" y1="292.70" x2="183.84" y2="302.30" stroke="#F28B8B" stroke-width="1.1" />
<line x1="181.34" y1="292.70" x2="186.34" y2="292.70" stroke="#F28B8B" stroke-width="1.1" />
<line x1="181.34" y1="302.30" x2="186.34" y2="302.30" stroke="#F28B8B" stroke-width="1.1" />
<line x1="201.46" y1="286.40" x2="201.46" y2="294.80" stroke="#F28B8B" stroke-width="1.1" />
<line x1="198.96" y1="286.40" x2="203.96" y2="286.40" stroke="#F28B8B" stroke-width="1.1" />
<line x1="198.96" y1="294.80" x2="203.96" y2="294.80" stroke="#F28B8B" stroke-width="1.1" />
<line x1="219.08" y1="278.50" x2="219.08" y2="281.50" stroke="#F28B8B" stroke-width="1.1" />
<line x1="216.58" y1="278.50" x2="221.58" y2="278.50" stroke="#F28B8B" stroke-width="1.1" />
<line x1="216.58" y1="281.50" x2="221.58" y2="281.50" stroke="#F28B8B" stroke-width="1.1" />
<polyline points="60.50,257.50 78.12,257.50 95.74,256.90 113.36,260.00 130.98,259.60 148.60,260.00 166.22,258.50 183.84,257.90 201.46,259.30 219.08,256.40" fill="none" stroke="#F28B8B" stroke-width="1.3"/>
<polyline points="60.50,261.40 78.12,265.20 95.74,282.50 113.36,292.60 130.98,306.20 148.60,305.10 166.22,302.80 183.84,297.50 201.46,290.60 219.08,280.00" fill="none" stroke="#F28B8B" stroke-width="1.3"/>
<circle cx="60.50" cy="257.50" r="2.5" fill="#F28B8B" stroke="#F28B8B" stroke-width="0.8"/>
<circle cx="78.12" cy="257.50" r="2.5" fill="#F28B8B" stroke="#F28B8B" stroke-width="0.8"/>
<circle cx="95.74" cy="256.90" r="2.5" fill="#F28B8B" stroke="#F28B8B" stroke-width="0.8"/>
<circle cx="113.36" cy="260.00" r="2.5" fill="#F28B8B" stroke="#F28B8B" stroke-width="0.8"/>
<circle cx="130.98" cy="259.60" r="2.5" fill="#F28B8B" stroke="#F28B8B" stroke-width="0.8"/>
<circle cx="148.60" cy="260.00" r="2.5" fill="#F28B8B" stroke="#F28B8B" stroke-width="0.8"/>
<circle cx="166.22" cy="258.50" r="2.5" fill="#F28B8B" stroke="#F28B8B" stroke-width="0.8"/>
<circle cx="183.84" cy="257.90" r="2.5" fill="#F28B8B" stroke="#F28B8B" stroke-width="0.8"/>
<circle cx="201.46" cy="259.30" r="2.5" fill="#F28B8B" stroke="#F28B8B" stroke-width="0.8"/>
<circle cx="219.08" cy="256.40" r="2.5" fill="#F28B8B" stroke="#F28B8B" stroke-width="0.8"/>
<rect x="57.90" y="258.80" width="5.2" height="5.2" fill="#F28B8B" stroke="#F28B8B" stroke-width="0.8"/>
<rect x="75.52" y="262.60" width="5.2" height="5.2" fill="#F28B8B" stroke="#F28B8B" stroke-width="0.8"/>
<rect x="93.14" y="279.90" width="5.2" height="5.2" fill="#F28B8B" stroke="#F28B8B" stroke-width="0.8"/>
<rect x="110.76" y="290.00" width="5.2" height="5.2" fill="#F28B8B" stroke="#F28B8B" stroke-width="0.8"/>
<rect x="128.38" y="303.60" width="5.2" height="5.2" fill="#F28B8B" stroke="#F28B8B" stroke-width="0.8"/>
<rect x="146.00" y="302.50" width="5.2" height="5.2" fill="#F28B8B" stroke="#F28B8B" stroke-width="0.8"/>
<rect x="163.62" y="300.20" width="5.2" height="5.2" fill="#F28B8B" stroke="#F28B8B" stroke-width="0.8"/>
<rect x="181.24" y="294.90" width="5.2" height="5.2" fill="#F28B8B" stroke="#F28B8B" stroke-width="0.8"/>
<rect x="198.86" y="288.00" width="5.2" height="5.2" fill="#F28B8B" stroke="#F28B8B" stroke-width="0.8"/>
<rect x="216.48" y="277.40" width="5.2" height="5.2" fill="#F28B8B" stroke="#F28B8B" stroke-width="0.8"/>
<line x1="95.74" y1="278.60" x2="95.74" y2="280.60" stroke="#1E7F8F" stroke-width="1.1" />
<line x1="93.24" y1="278.60" x2="98.24" y2="278.60" stroke="#1E7F8F" stroke-width="1.1" />
<line x1="93.24" y1="280.60" x2="98.24" y2="280.60" stroke="#1E7F8F" stroke-width="1.1" />
<line x1="113.36" y1="282.40" x2="113.36" y2="287.60" stroke="#1E7F8F" stroke-width="1.1" />
<line x1="110.86" y1="282.40" x2="115.86" y2="282.40" stroke="#1E7F8F" stroke-width="1.1" />
<line x1="110.86" y1="287.60" x2="115.86" y2="287.60" stroke="#1E7F8F" stroke-width="1.1" />
<line x1="130.98" y1="283.70" x2="130.98" y2="295.10" stroke="#1E7F8F" stroke-width="1.1" />
<line x1="128.48" y1="283.70" x2="133.48" y2="283.70" stroke="#1E7F8F" stroke-width="1.1" />
<line x1="128.48" y1="295.10" x2="133.48" y2="295.10" stroke="#1E7F8F" stroke-width="1.1" />
<line x1="148.60" y1="285.80" x2="148.60" y2="295.80" stroke="#1E7F8F" stroke-width="1.1" />
<line x1="146.10" y1="285.80" x2="151.10" y2="285.80" stroke="#1E7F8F" stroke-width="1.1" />
<line x1="146.10" y1="295.80" x2="151.10" y2="295.80" stroke="#1E7F8F" stroke-width="1.1" />
<line x1="166.22" y1="283.00" x2="166.22" y2="289.20" stroke="#1E7F8F" stroke-width="1.1" />
<line x1="163.72" y1="283.00" x2="168.72" y2="283.00" stroke="#1E7F8F" stroke-width="1.1" />
<line x1="163.72" y1="289.20" x2="168.72" y2="289.20" stroke="#1E7F8F" stroke-width="1.1" />
<line x1="183.84" y1="272.80" x2="183.84" y2="280.00" stroke="#1E7F8F" stroke-width="1.1" />
<line x1="181.34" y1="272.80" x2="186.34" y2="272.80" stroke="#1E7F8F" stroke-width="1.1" />
<line x1="181.34" y1="280.00" x2="186.34" y2="280.00" stroke="#1E7F8F" stroke-width="1.1" />
<line x1="201.46" y1="267.90" x2="201.46" y2="274.70" stroke="#1E7F8F" stroke-width="1.1" />
<line x1="198.96" y1="267.90" x2="203.96" y2="267.90" stroke="#1E7F8F" stroke-width="1.1" />
<line x1="198.96" y1="274.70" x2="203.96" y2="274.70" stroke="#1E7F8F" stroke-width="1.1" />
<line x1="219.08" y1="264.00" x2="219.08" y2="266.00" stroke="#1E7F8F" stroke-width="1.1" />
<line x1="216.58" y1="264.00" x2="221.58" y2="264.00" stroke="#1E7F8F" stroke-width="1.1" />
<line x1="216.58" y1="266.00" x2="221.58" y2="266.00" stroke="#1E7F8F" stroke-width="1.1" />
<line x1="78.12" y1="255.00" x2="78.12" y2="259.40" stroke="#1E7F8F" stroke-width="1.1" />
<line x1="75.62" y1="255.00" x2="80.62" y2="255.00" stroke="#1E7F8F" stroke-width="1.1" />
<line x1="75.62" y1="259.40" x2="80.62" y2="259.40" stroke="#1E7F8F" stroke-width="1.1" />
<polyline points="60.50,257.20 78.12,257.20 95.74,258.40 113.36,261.10 130.98,260.20 148.60,260.60 166.22,259.30 183.84,260.40 201.46,259.50 219.08,259.30" fill="none" stroke="#1E7F8F" stroke-width="1.3"/>
<polyline points="60.50,261.40 78.12,265.20 95.74,279.60 113.36,285.00 130.98,289.40 148.60,290.80 166.22,286.10 183.84,276.40 201.46,271.30 219.08,265.00" fill="none" stroke="#1E7F8F" stroke-width="1.3"/>
<polygon points="60.50,254.10 63.60,259.50 57.40,259.50" fill="#7DB7E3" stroke="#1E7F8F" stroke-width="1.2"/>
<polygon points="78.12,254.10 81.22,259.50 75.02,259.50" fill="#7DB7E3" stroke="#1E7F8F" stroke-width="1.2"/>
<polygon points="95.74,255.30 98.84,260.70 92.64,260.70" fill="#7DB7E3" stroke="#1E7F8F" stroke-width="1.2"/>
<polygon points="113.36,258.00 116.46,263.40 110.26,263.40" fill="#7DB7E3" stroke="#1E7F8F" stroke-width="1.2"/>
<polygon points="130.98,257.10 134.08,262.50 127.88,262.50" fill="#7DB7E3" stroke="#1E7F8F" stroke-width="1.2"/>
<polygon points="148.60,257.50 151.70,262.90 145.50,262.90" fill="#7DB7E3" stroke="#1E7F8F" stroke-width="1.2"/>
<polygon points="166.22,256.20 169.32,261.60 163.12,261.60" fill="#7DB7E3" stroke="#1E7F8F" stroke-width="1.2"/>
<polygon points="183.84,257.30 186.94,262.70 180.74,262.70" fill="#7DB7E3" stroke="#1E7F8F" stroke-width="1.2"/>
<polygon points="201.46,256.40 204.56,261.80 198.36,261.80" fill="#7DB7E3" stroke="#1E7F8F" stroke-width="1.2"/>
<polygon points="219.08,256.20 222.18,261.60 215.98,261.60" fill="#7DB7E3" stroke="#1E7F8F" stroke-width="1.2"/>
<polygon points="60.50,258.20 63.70,261.40 60.50,264.60 57.30,261.40" fill="#7DB7E3" stroke="#1E7F8F" stroke-width="1.2"/>
<polygon points="78.12,262.00 81.32,265.20 78.12,268.40 74.92,265.20" fill="#7DB7E3" stroke="#1E7F8F" stroke-width="1.2"/>
<polygon points="95.74,276.40 98.94,279.60 95.74,282.80 92.54,279.60" fill="#7DB7E3" stroke="#1E7F8F" stroke-width="1.2"/>
<polygon points="113.36,281.80 116.56,285.00 113.36,288.20 110.16,285.00" fill="#7DB7E3" stroke="#1E7F8F" stroke-width="1.2"/>
<polygon points="130.98,286.20 134.18,289.40 130.98,292.60 127.78,289.40" fill="#7DB7E3" stroke="#1E7F8F" stroke-width="1.2"/>
<polygon points="148.60,287.60 151.80,290.80 148.60,294.00 145.40,290.80" fill="#7DB7E3" stroke="#1E7F8F" stroke-width="1.2"/>
<polygon points="166.22,282.90 169.42,286.10 166.22,289.30 163.02,286.10" fill="#7DB7E3" stroke="#1E7F8F" stroke-width="1.2"/>
<polygon points="183.84,273.20 187.04,276.40 183.84,279.60 180.64,276.40" fill="#7DB7E3" stroke="#1E7F8F" stroke-width="1.2"/>
<polygon points="201.46,268.10 204.66,271.30 201.46,274.50 198.26,271.30" fill="#7DB7E3" stroke="#1E7F8F" stroke-width="1.2"/>
<polygon points="219.08,261.80 222.28,265.00 219.08,268.20 215.88,265.00" fill="#7DB7E3" stroke="#1E7F8F" stroke-width="1.2"/>
<line x1="70.50" y1="218.80" x2="85.50" y2="218.80" stroke="#F28B8B" stroke-width="1.3" />
<circle cx="77.70" cy="218.80" r="2.5" fill="#F28B8B" stroke="#F28B8B" stroke-width="0.8"/>
<line x1="70.50" y1="232.60" x2="85.50" y2="232.60" stroke="#F28B8B" stroke-width="1.3" />
<rect x="75.30" y="230.00" width="5.2" height="5.2" fill="#F28B8B" stroke="#F28B8B" stroke-width="0.8"/>
<line x1="138.00" y1="219.10" x2="153.00" y2="219.10" stroke="#1E7F8F" stroke-width="1.3" />
<polygon points="145.30,216.00 148.40,221.40 142.20,221.40" fill="#7DB7E3" stroke="#1E7F8F" stroke-width="1.2"/>
<line x1="138.00" y1="232.90" x2="153.00" y2="232.90" stroke="#1E7F8F" stroke-width="1.3" />
<polygon points="145.30,229.70 148.50,232.90 145.30,236.10 142.10,232.90" fill="#7DB7E3" stroke="#1E7F8F" stroke-width="1.2"/>
<text x="92.30" y="223.20" font-size="8.3" fill="#111" >WT-PBS</text>
<text x="92.30" y="236.60" font-size="8.3" fill="#111" >WT-OVA</text>
<text x="158.8" y="223.5" font-size="8.3" fill="#111"><tspan font-style="italic">Irf3</tspan> KO-PBS</text>
<text x="158.8" y="236.9" font-size="8.3" fill="#111"><tspan font-style="italic">Irf3</tspan> KO-OVA</text>
<line x1="300.10" y1="214.70" x2="300.10" y2="295.10" stroke="#111" stroke-width="1.35" />
<line x1="297.50" y1="294.50" x2="377.90" y2="294.50" stroke="#111" stroke-width="1.35" />
<line x1="297.50" y1="215.30" x2="300.10" y2="215.30" stroke="#111" stroke-width="1.2" />
<text x="295.60" y="218.90" font-size="8.4" text-anchor="end" fill="#111" >200</text>
<line x1="297.50" y1="235.10" x2="300.10" y2="235.10" stroke="#111" stroke-width="1.2" />
<text x="295.60" y="238.70" font-size="8.4" text-anchor="end" fill="#111" >150</text>
<line x1="297.50" y1="254.90" x2="300.10" y2="254.90" stroke="#111" stroke-width="1.2" />
<text x="295.60" y="258.50" font-size="8.4" text-anchor="end" fill="#111" >100</text>
<line x1="297.50" y1="274.70" x2="300.10" y2="274.70" stroke="#111" stroke-width="1.2" />
<text x="295.60" y="278.30" font-size="8.4" text-anchor="end" fill="#111" >50</text>
<line x1="297.50" y1="294.50" x2="300.10" y2="294.50" stroke="#111" stroke-width="1.2" />
<text x="295.60" y="298.10" font-size="8.4" text-anchor="end" fill="#111" >0</text>
<line x1="310.25" y1="294.50" x2="310.25" y2="296.50" stroke="#111" stroke-width="0.9" />
<line x1="310.25" y1="262.90" x2="310.25" y2="265.00" stroke="#111" stroke-width="1.2" />
<line x1="307.25" y1="262.90" x2="313.25" y2="262.90" stroke="#111" stroke-width="1.3" />
<rect x="304.20" y="265.50" width="12.10" height="29.00" fill="#FF9494" stroke="#111" stroke-width="1.2"/>
<line x1="328.55" y1="294.50" x2="328.55" y2="296.50" stroke="#111" stroke-width="0.9" />
<line x1="328.55" y1="229.70" x2="328.55" y2="233.40" stroke="#111" stroke-width="1.2" />
<line x1="325.55" y1="229.70" x2="331.55" y2="229.70" stroke="#111" stroke-width="1.3" />
<rect x="322.60" y="233.90" width="11.90" height="60.60" fill="#FF9494" stroke="#111" stroke-width="1.2"/>
<line x1="347.70" y1="294.50" x2="347.70" y2="296.50" stroke="#111" stroke-width="0.9" />
<line x1="347.70" y1="263.00" x2="347.70" y2="266.00" stroke="#111" stroke-width="1.2" />
<line x1="344.70" y1="263.00" x2="350.70" y2="263.00" stroke="#111" stroke-width="1.3" />
<rect x="341.80" y="266.50" width="11.80" height="28.00" fill="#A0C6EE" stroke="#111" stroke-width="1.2"/>
<line x1="366.30" y1="294.50" x2="366.30" y2="296.50" stroke="#111" stroke-width="0.9" />
<line x1="366.30" y1="255.50" x2="366.30" y2="258.60" stroke="#111" stroke-width="1.2" />
<line x1="363.30" y1="255.50" x2="369.30" y2="255.50" stroke="#111" stroke-width="1.3" />
<rect x="360.40" y="259.10" width="11.80" height="35.40" fill="#A0C6EE" stroke="#111" stroke-width="1.2"/>
<line x1="324.20" y1="223.90" x2="377.20" y2="223.90" stroke="#111" stroke-width="1.3" />
<polygon points="344.23,217.80 344.87,219.21 346.41,219.39 345.27,220.44 345.58,221.96 344.23,221.20 342.87,221.96 343.18,220.44 342.04,219.39 343.58,219.21" fill="#444" stroke="#444" stroke-width="0.3"/>
<polygon points="348.48,217.80 349.12,219.21 350.66,219.39 349.52,220.44 349.83,221.96 348.48,221.20 347.12,221.96 347.43,220.44 346.29,219.39 347.83,219.21" fill="#444" stroke="#444" stroke-width="0.3"/>
<polygon points="352.73,217.80 353.37,219.21 354.91,219.39 353.77,220.44 354.08,221.96 352.73,221.20 351.37,221.96 351.68,220.44 350.54,219.39 352.08,219.21" fill="#444" stroke="#444" stroke-width="0.3"/>
<polygon points="356.98,217.80 357.62,219.21 359.16,219.39 358.02,220.44 358.33,221.96 356.98,221.20 355.62,221.96 355.93,220.44 354.79,219.39 356.33,219.21" fill="#444" stroke="#444" stroke-width="0.3"/>
<line x1="307.80" y1="304.10" x2="312.40" y2="304.10" stroke="#444" stroke-width="0.9" />
<line x1="326.35" y1="304.10" x2="330.95" y2="304.10" stroke="#444" stroke-width="0.9" />
<line x1="328.65" y1="301.80" x2="328.65" y2="306.40" stroke="#444" stroke-width="0.9" />
<line x1="345.30" y1="304.10" x2="349.90" y2="304.10" stroke="#444" stroke-width="0.9" />
<line x1="363.90" y1="304.10" x2="368.50" y2="304.10" stroke="#444" stroke-width="0.9" />
<line x1="366.20" y1="301.80" x2="366.20" y2="306.40" stroke="#444" stroke-width="0.9" />
<text x="286.60" y="306.90" font-size="8.3" text-anchor="middle" fill="#111" >OVA</text>
<text transform="translate(275.10,254.85) rotate(-90)" x="0" y="0" font-size="8.3" text-anchor="middle" textLength="67.3" lengthAdjust="spacingAndGlyphs" fill="#111">Histamine (ng/mL)</text>
<line x1="457.10" y1="214.70" x2="457.10" y2="295.00" stroke="#111" stroke-width="1.35" />
<line x1="454.50" y1="294.40" x2="537.00" y2="294.40" stroke="#111" stroke-width="1.35" />
<line x1="454.50" y1="215.30" x2="457.10" y2="215.30" stroke="#111" stroke-width="1.2" />
<text x="452.60" y="218.90" font-size="8.4" text-anchor="end" fill="#111" >300</text>
<line x1="454.50" y1="241.70" x2="457.10" y2="241.70" stroke="#111" stroke-width="1.2" />
<text x="452.60" y="245.30" font-size="8.4" text-anchor="end" fill="#111" >200</text>
<line x1="454.50" y1="268.00" x2="457.10" y2="268.00" stroke="#111" stroke-width="1.2" />
<text x="452.60" y="271.60" font-size="8.4" text-anchor="end" fill="#111" >100</text>
<line x1="454.50" y1="294.40" x2="457.10" y2="294.40" stroke="#111" stroke-width="1.2" />
<text x="452.60" y="298.00" font-size="8.4" text-anchor="end" fill="#111" >0</text>
<line x1="487.00" y1="294.40" x2="487.00" y2="296.40" stroke="#111" stroke-width="0.9" />
<line x1="487.00" y1="228.90" x2="487.00" y2="240.70" stroke="#111" stroke-width="1.2" />
<line x1="484.00" y1="228.90" x2="490.00" y2="228.90" stroke="#111" stroke-width="1.3" />
<rect x="480.80" y="241.20" width="12.40" height="53.20" fill="#FF9494" stroke="#111" stroke-width="1.2"/>
<line x1="526.35" y1="294.40" x2="526.35" y2="296.40" stroke="#111" stroke-width="0.9" />
<line x1="526.35" y1="288.70" x2="526.35" y2="289.90" stroke="#111" stroke-width="1.2" />
<line x1="523.35" y1="288.70" x2="529.35" y2="288.70" stroke="#111" stroke-width="1.3" />
<rect x="520.20" y="290.40" width="12.30" height="4.00" fill="#A0C6EE" stroke="#111" stroke-width="1.2"/>
<line x1="478.60" y1="223.60" x2="535.80" y2="223.60" stroke="#111" stroke-width="1.3" />
<polygon points="500.82,217.50 501.47,218.91 503.01,219.09 501.87,220.14 502.18,221.66 500.82,220.90 499.47,221.66 499.78,220.14 498.64,219.09 500.18,218.91" fill="#444" stroke="#444" stroke-width="0.3"/>
<polygon points="505.07,217.50 505.72,218.91 507.26,219.09 506.12,220.14 506.43,221.66 505.07,220.90 503.72,221.66 504.03,220.14 502.89,219.09 504.43,218.91" fill="#444" stroke="#444" stroke-width="0.3"/>
<polygon points="509.33,217.50 509.97,218.91 511.51,219.09 510.37,220.14 510.68,221.66 509.33,220.90 507.97,221.66 508.28,220.14 507.14,219.09 508.68,218.91" fill="#444" stroke="#444" stroke-width="0.3"/>
<polygon points="513.58,217.50 514.22,218.91 515.76,219.09 514.62,220.14 514.93,221.66 513.58,220.90 512.22,221.66 512.53,220.14 511.39,219.09 512.93,218.91" fill="#444" stroke="#444" stroke-width="0.3"/>
<line x1="465.50" y1="303.80" x2="470.10" y2="303.80" stroke="#444" stroke-width="0.9" />
<line x1="484.70" y1="303.80" x2="489.30" y2="303.80" stroke="#444" stroke-width="0.9" />
<line x1="487.00" y1="301.50" x2="487.00" y2="306.10" stroke="#444" stroke-width="0.9" />
<line x1="504.80" y1="303.80" x2="509.40" y2="303.80" stroke="#444" stroke-width="0.9" />
<line x1="524.10" y1="303.80" x2="528.70" y2="303.80" stroke="#444" stroke-width="0.9" />
<line x1="526.40" y1="301.50" x2="526.40" y2="306.10" stroke="#444" stroke-width="0.9" />
<text x="443.30" y="306.90" font-size="8.3" text-anchor="middle" fill="#111" >OVA</text>
<text transform="translate(432.60,254.45) rotate(-90)" x="0" y="0" font-size="8.3" text-anchor="middle" textLength="46.1" lengthAdjust="spacingAndGlyphs" fill="#111">IL-4 (pg/mL)</text>
<text x="468.00" y="290.30" font-size="5.4" text-anchor="middle" fill="#222" >ND</text>
<text x="507.00" y="290.30" font-size="5.4" text-anchor="middle" fill="#222" >ND</text>
<line x1="459.70" y1="292.50" x2="475.70" y2="292.50" stroke="#222" stroke-width="1.0" />
<line x1="467.70" y1="294.40" x2="467.70" y2="296.40" stroke="#111" stroke-width="0.9" />
<line x1="499.30" y1="292.50" x2="514.70" y2="292.50" stroke="#222" stroke-width="1.0" />
<line x1="507.00" y1="294.40" x2="507.00" y2="296.40" stroke="#111" stroke-width="0.9" />
<line x1="301.00" y1="335.90" x2="301.00" y2="412.20" stroke="#111" stroke-width="1.35" />
<line x1="298.40" y1="411.60" x2="378.50" y2="411.60" stroke="#111" stroke-width="1.35" />
<line x1="298.40" y1="336.50" x2="301.00" y2="336.50" stroke="#111" stroke-width="1.2" />
<text x="296.50" y="340.10" font-size="8.4" text-anchor="end" fill="#111" >2.5</text>
<line x1="298.40" y1="351.50" x2="301.00" y2="351.50" stroke="#111" stroke-width="1.2" />
<text x="296.50" y="355.10" font-size="8.4" text-anchor="end" fill="#111" >2.0</text>
<line x1="298.40" y1="366.50" x2="301.00" y2="366.50" stroke="#111" stroke-width="1.2" />
<text x="296.50" y="370.10" font-size="8.4" text-anchor="end" fill="#111" >1.5</text>
<line x1="298.40" y1="381.50" x2="301.00" y2="381.50" stroke="#111" stroke-width="1.2" />
<text x="296.50" y="385.10" font-size="8.4" text-anchor="end" fill="#111" >1.0</text>
<line x1="298.40" y1="396.50" x2="301.00" y2="396.50" stroke="#111" stroke-width="1.2" />
<text x="296.50" y="400.10" font-size="8.4" text-anchor="end" fill="#111" >0.5</text>
<line x1="298.40" y1="411.60" x2="301.00" y2="411.60" stroke="#111" stroke-width="1.2" />
<text x="296.50" y="415.20" font-size="8.4" text-anchor="end" fill="#111" >0</text>
<line x1="310.95" y1="411.60" x2="310.95" y2="413.60" stroke="#111" stroke-width="0.9" />
<line x1="310.95" y1="400.50" x2="310.95" y2="401.40" stroke="#111" stroke-width="1.2" />
<line x1="307.95" y1="400.50" x2="313.95" y2="400.50" stroke="#111" stroke-width="1.3" />
<rect x="305.20" y="401.90" width="11.50" height="9.70" fill="#FF9494" stroke="#111" stroke-width="1.2"/>
<line x1="329.05" y1="411.60" x2="329.05" y2="413.60" stroke="#111" stroke-width="0.9" />
<line x1="329.05" y1="357.50" x2="329.05" y2="364.30" stroke="#111" stroke-width="1.2" />
<line x1="326.05" y1="357.50" x2="332.05" y2="357.50" stroke="#111" stroke-width="1.3" />
<rect x="323.00" y="364.80" width="12.10" height="46.80" fill="#FF9494" stroke="#111" stroke-width="1.2"/>
<line x1="347.80" y1="411.60" x2="347.80" y2="413.60" stroke="#111" stroke-width="0.9" />
<line x1="347.80" y1="398.70" x2="347.80" y2="400.50" stroke="#111" stroke-width="1.2" />
<line x1="344.80" y1="398.70" x2="350.80" y2="398.70" stroke="#111" stroke-width="1.3" />
<rect x="341.80" y="401.00" width="12.00" height="10.60" fill="#A0C6EE" stroke="#111" stroke-width="1.2"/>
<line x1="366.15" y1="411.60" x2="366.15" y2="413.60" stroke="#111" stroke-width="0.9" />
<line x1="366.15" y1="382.20" x2="366.15" y2="388.40" stroke="#111" stroke-width="1.2" />
<line x1="363.15" y1="382.20" x2="369.15" y2="382.20" stroke="#111" stroke-width="1.3" />
<rect x="360.10" y="388.90" width="12.10" height="22.70" fill="#A0C6EE" stroke="#111" stroke-width="1.2"/>
<line x1="323.00" y1="342.80" x2="378.00" y2="342.80" stroke="#111" stroke-width="1.3" />
<polygon points="344.79,336.40 345.43,337.81 346.97,337.99 345.83,339.04 346.14,340.56 344.79,339.80 343.44,340.56 343.74,339.04 342.60,337.99 344.14,337.81" fill="#444" stroke="#444" stroke-width="0.3"/>
<polygon points="349.16,336.40 349.81,337.81 351.35,337.99 350.21,339.04 350.51,340.56 349.16,339.80 347.81,340.56 348.12,339.04 346.98,337.99 348.52,337.81" fill="#444" stroke="#444" stroke-width="0.3"/>
<polygon points="353.54,336.40 354.18,337.81 355.72,337.99 354.58,339.04 354.89,340.56 353.54,339.80 352.19,340.56 352.49,339.04 351.35,337.99 352.89,337.81" fill="#444" stroke="#444" stroke-width="0.3"/>
<polygon points="357.91,336.40 358.56,337.81 360.10,337.99 358.96,339.04 359.26,340.56 357.91,339.80 356.56,340.56 356.87,339.04 355.73,337.99 357.27,337.81" fill="#444" stroke="#444" stroke-width="0.3"/>
<line x1="308.65" y1="420.90" x2="313.25" y2="420.90" stroke="#444" stroke-width="0.9" />
<line x1="326.75" y1="420.90" x2="331.35" y2="420.90" stroke="#444" stroke-width="0.9" />
<line x1="329.05" y1="418.60" x2="329.05" y2="423.20" stroke="#444" stroke-width="0.9" />
<line x1="345.50" y1="420.90" x2="350.10" y2="420.90" stroke="#444" stroke-width="0.9" />
<line x1="363.85" y1="420.90" x2="368.45" y2="420.90" stroke="#444" stroke-width="0.9" />
<line x1="366.15" y1="418.60" x2="366.15" y2="423.20" stroke="#444" stroke-width="0.9" />
<text x="287.40" y="423.90" font-size="8.3" text-anchor="middle" fill="#111" >OVA</text>
<text transform="translate(276.70,374.00) rotate(-90)" x="0" y="0" font-size="8.3" text-anchor="middle" textLength="43.4" lengthAdjust="spacingAndGlyphs" fill="#111">IgE (µg/mL)</text>
<line x1="457.80" y1="335.90" x2="457.80" y2="412.30" stroke="#111" stroke-width="1.35" />
<line x1="455.20" y1="411.70" x2="538.00" y2="411.70" stroke="#111" stroke-width="1.35" />
<line x1="455.20" y1="336.50" x2="457.80" y2="336.50" stroke="#111" stroke-width="1.2" />
<text x="453.30" y="340.10" font-size="8.4" text-anchor="end" fill="#111" >1.5</text>
<line x1="455.20" y1="361.60" x2="457.80" y2="361.60" stroke="#111" stroke-width="1.2" />
<text x="453.30" y="365.20" font-size="8.4" text-anchor="end" fill="#111" >1.0</text>
<line x1="455.20" y1="386.60" x2="457.80" y2="386.60" stroke="#111" stroke-width="1.2" />
<text x="453.30" y="390.20" font-size="8.4" text-anchor="end" fill="#111" >0.5</text>
<line x1="455.20" y1="411.70" x2="457.80" y2="411.70" stroke="#111" stroke-width="1.2" />
<text x="453.30" y="415.30" font-size="8.4" text-anchor="end" fill="#111" >0</text>
<line x1="468.40" y1="411.70" x2="468.40" y2="413.70" stroke="#111" stroke-width="0.9" />
<line x1="468.40" y1="402.00" x2="468.40" y2="403.20" stroke="#111" stroke-width="1.2" />
<line x1="465.40" y1="402.00" x2="471.40" y2="402.00" stroke="#111" stroke-width="1.3" />
<rect x="461.90" y="403.70" width="13.00" height="8.00" fill="#FF9494" stroke="#111" stroke-width="1.2"/>
<line x1="488.00" y1="411.70" x2="488.00" y2="413.70" stroke="#111" stroke-width="0.9" />
<line x1="488.00" y1="350.30" x2="488.00" y2="358.00" stroke="#111" stroke-width="1.2" />
<line x1="485.00" y1="350.30" x2="491.00" y2="350.30" stroke="#111" stroke-width="1.3" />
<rect x="481.90" y="358.50" width="12.20" height="53.20" fill="#FF9494" stroke="#111" stroke-width="1.2"/>
<line x1="507.50" y1="411.70" x2="507.50" y2="413.70" stroke="#111" stroke-width="0.9" />
<line x1="507.50" y1="403.00" x2="507.50" y2="403.50" stroke="#111" stroke-width="1.2" />
<line x1="504.50" y1="403.00" x2="510.50" y2="403.00" stroke="#111" stroke-width="1.3" />
<rect x="501.10" y="404.00" width="12.80" height="7.70" fill="#A0C6EE" stroke="#111" stroke-width="1.2"/>
<line x1="527.45" y1="411.70" x2="527.45" y2="413.70" stroke="#111" stroke-width="0.9" />
<line x1="527.45" y1="387.10" x2="527.45" y2="390.70" stroke="#111" stroke-width="1.2" />
<line x1="524.45" y1="387.10" x2="530.45" y2="387.10" stroke="#111" stroke-width="1.3" />
<rect x="521.10" y="391.20" width="12.70" height="20.50" fill="#A0C6EE" stroke="#111" stroke-width="1.2"/>
<line x1="479.70" y1="342.60" x2="536.80" y2="342.60" stroke="#111" stroke-width="1.3" />
<polygon points="501.52,336.50 502.17,337.91 503.71,338.09 502.57,339.14 502.88,340.66 501.52,339.90 500.17,340.66 500.48,339.14 499.34,338.09 500.88,337.91" fill="#444" stroke="#444" stroke-width="0.3"/>
<polygon points="505.77,336.50 506.42,337.91 507.96,338.09 506.82,339.14 507.13,340.66 505.77,339.90 504.42,340.66 504.73,339.14 503.59,338.09 505.13,337.91" fill="#444" stroke="#444" stroke-width="0.3"/>
<polygon points="510.02,336.50 510.67,337.91 512.21,338.09 511.07,339.14 511.38,340.66 510.02,339.90 508.67,340.66 508.98,339.14 507.84,338.09 509.38,337.91" fill="#444" stroke="#444" stroke-width="0.3"/>
<polygon points="514.27,336.50 514.92,337.91 516.46,338.09 515.32,339.14 515.63,340.66 514.27,339.90 512.92,340.66 513.23,339.14 512.09,338.09 513.63,337.91" fill="#444" stroke="#444" stroke-width="0.3"/>
<line x1="466.10" y1="420.60" x2="470.70" y2="420.60" stroke="#444" stroke-width="0.9" />
<line x1="485.70" y1="420.60" x2="490.30" y2="420.60" stroke="#444" stroke-width="0.9" />
<line x1="488.00" y1="418.30" x2="488.00" y2="422.90" stroke="#444" stroke-width="0.9" />
<line x1="505.20" y1="420.60" x2="509.80" y2="420.60" stroke="#444" stroke-width="0.9" />
<line x1="525.15" y1="420.60" x2="529.75" y2="420.60" stroke="#444" stroke-width="0.9" />
<line x1="527.45" y1="418.30" x2="527.45" y2="422.90" stroke="#444" stroke-width="0.9" />
<text x="444.05" y="423.70" font-size="8.3" text-anchor="middle" fill="#111" >OVA</text>
<text transform="translate(432.30,372.25) rotate(-90)" x="0" y="0" font-size="8.3" text-anchor="middle" textLength="85.7" lengthAdjust="spacingAndGlyphs" fill="#111">OVA-specific IgE (O.D.)</text>
</svg></body></html>
